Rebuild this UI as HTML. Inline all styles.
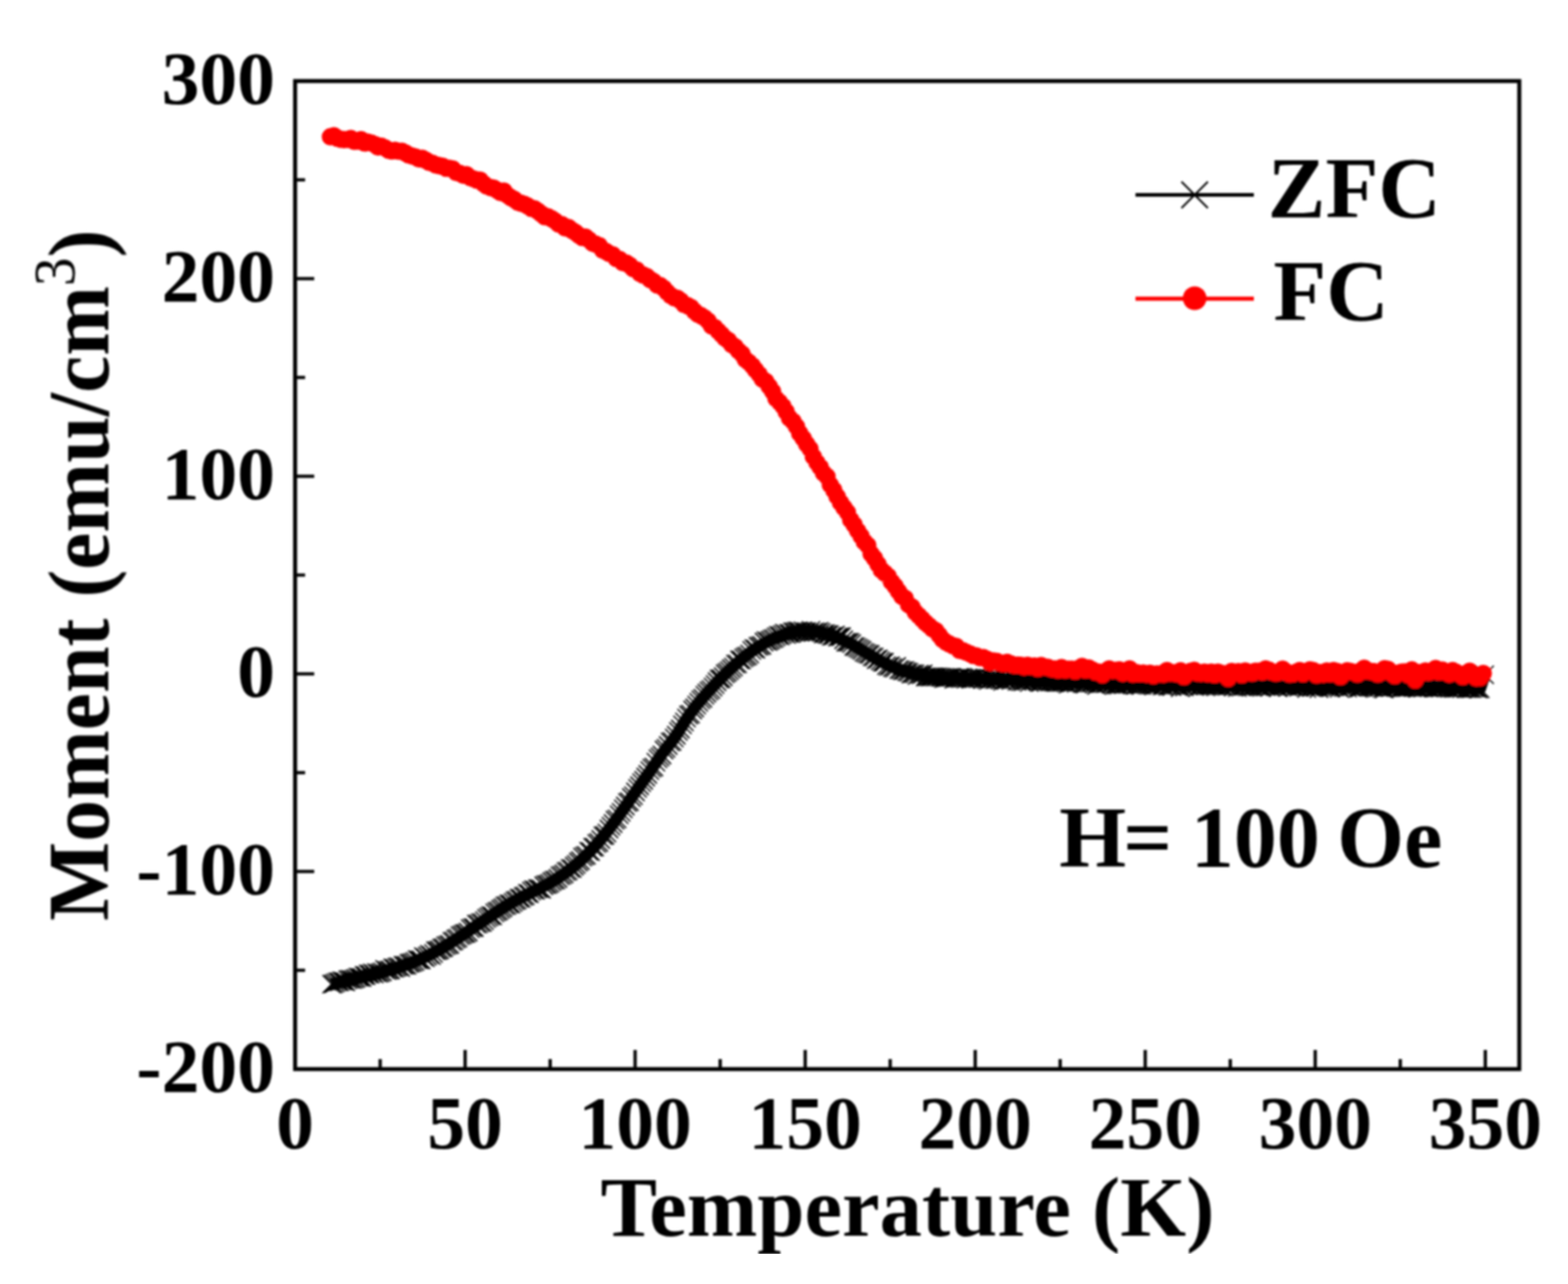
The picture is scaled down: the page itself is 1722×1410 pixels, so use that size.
<!DOCTYPE html>
<html><head><meta charset="utf-8"><title>ZFC/FC Moment vs Temperature</title>
<style>html,body{margin:0;padding:0;background:#fff;overflow:hidden;}svg{display:block;}
text{font-family:"Liberation Serif","Times New Roman",serif;font-weight:bold;fill:#000;}</style>
</head><body>
<svg width="1722" height="1410" viewBox="0 0 1722 1410">
<defs><filter id="soft" x="0" y="0" width="100%" height="100%"><feGaussianBlur stdDeviation="0.8"/></filter></defs>
<rect x="0" y="0" width="1722" height="1410" fill="#fff"/>
<g filter="url(#soft)">
<polyline points="364.1,1080.7 366.3,1080.1 368.5,1079.6 370.8,1079.0 373.0,1078.5 375.3,1077.9 377.5,1077.4 379.7,1076.9 382.0,1076.4 384.2,1075.9 386.5,1075.3 388.7,1074.8 390.9,1074.3 393.2,1073.8 395.4,1073.3 397.7,1072.8 399.9,1072.3 402.1,1071.8 404.4,1071.3 406.6,1070.7 408.9,1070.2 411.1,1069.7 413.4,1069.1 415.6,1068.6 417.8,1068.0 420.1,1067.4 422.3,1066.8 424.6,1066.2 426.8,1065.6 429.0,1065.0 431.3,1064.3 433.5,1063.6 435.8,1062.9 438.0,1062.2 440.2,1061.5 442.5,1060.8 444.7,1060.0 447.0,1059.2 449.2,1058.4 451.4,1057.5 453.7,1056.7 455.9,1055.8 458.2,1054.8 460.4,1053.9 462.6,1052.9 464.9,1051.9 467.1,1050.8 469.4,1049.8 471.6,1048.6 473.9,1047.5 476.1,1046.3 478.3,1045.1 480.6,1043.8 482.8,1042.6 485.1,1041.3 487.3,1039.9 489.5,1038.6 491.8,1037.2 494.0,1035.8 496.3,1034.4 498.5,1033.0 500.7,1031.5 503.0,1030.1 505.2,1028.6 507.5,1027.1 509.7,1025.6 511.9,1024.1 514.2,1022.6 516.4,1021.0 518.7,1019.5 520.9,1018.0 523.1,1016.4 525.4,1014.9 527.6,1013.4 529.9,1011.9 532.1,1010.3 534.3,1008.8 536.6,1007.3 538.8,1005.8 541.1,1004.3 543.3,1002.9 545.6,1001.4 547.8,999.9 550.0,998.5 552.3,997.1 554.5,995.7 556.8,994.3 559.0,993.0 561.2,991.7 563.5,990.4 565.7,989.1 568.0,987.9 570.2,986.7 572.4,985.5 574.7,984.4 576.9,983.2 579.2,982.2 581.4,981.1 583.6,980.0 585.9,978.9 588.1,977.8 590.4,976.7 592.6,975.6 594.8,974.5 597.1,973.3 599.3,972.1 601.6,970.9 603.8,969.6 606.1,968.3 608.3,966.9 610.5,965.5 612.8,964.1 615.0,962.6 617.3,961.1 619.5,959.6 621.7,957.9 624.0,956.3 626.2,954.6 628.5,952.8 630.7,951.0 632.9,949.1 635.2,947.2 637.4,945.2 639.7,943.1 641.9,941.0 644.1,938.8 646.4,936.6 648.6,934.3 650.9,931.9 653.1,929.5 655.3,927.0 657.6,924.4 659.8,921.8 662.1,919.0 664.3,916.3 666.5,913.4 668.8,910.5 671.0,907.5 673.3,904.5 675.5,901.4 677.8,898.4 680.0,895.2 682.2,892.1 684.5,888.9 686.7,885.7 689.0,882.5 691.2,879.2 693.4,876.0 695.7,872.8 697.9,869.6 700.2,866.4 702.4,863.2 704.6,860.0 706.9,856.9 709.1,853.8 711.4,850.6 713.6,847.5 715.8,844.2 718.1,840.9 720.3,837.6 722.6,834.3 724.8,831.0 727.0,827.9 729.3,824.9 731.5,822.0 733.8,819.2 736.0,816.4 738.2,813.5 740.5,810.5 742.7,807.3 745.0,803.8 747.2,800.2 749.5,796.5 751.7,792.9 753.9,789.5 756.2,786.2 758.4,783.1 760.7,780.1 762.9,777.1 765.1,774.3 767.4,771.6 769.6,768.9 771.9,766.3 774.1,763.8 776.3,761.2 778.6,758.7 780.8,756.3 783.1,753.9 785.3,751.5 787.5,749.1 789.8,746.8 792.0,744.5 794.3,742.3 796.5,740.1 798.7,737.9 801.0,735.8 803.2,733.7 805.5,731.6 807.7,729.6 810.0,727.7 812.2,725.8 814.4,723.9 816.7,722.1 818.9,720.3 821.2,718.6 823.4,716.9 825.6,715.3 827.9,713.7 830.1,712.2 832.4,710.7 834.6,709.3 836.8,707.9 839.1,706.6 841.3,705.4 843.6,704.2 845.8,703.0 848.0,702.0 850.3,701.0 852.5,700.0 854.8,699.1 857.0,698.3 859.2,697.5 861.5,696.8 863.7,696.2 866.0,695.6 868.2,695.1 870.4,694.7 872.7,694.3 874.9,694.0 877.2,693.7 879.4,693.5 881.7,693.4 883.9,693.3 886.1,693.3 888.4,693.4 890.6,693.5 892.9,693.7 895.1,693.9 897.3,694.2 899.6,694.5 901.8,694.9 904.1,695.4 906.3,695.9 908.5,696.5 910.8,697.1 913.0,697.8 915.3,698.5 917.5,699.3 919.7,700.2 922.0,701.1 924.2,702.1 926.5,703.1 928.7,704.1 930.9,705.3 933.2,706.4 935.4,707.6 937.7,708.9 939.9,710.2 942.2,711.5 944.4,712.8 946.6,714.1 948.9,715.5 951.1,716.8 953.4,718.1 955.6,719.5 957.8,720.8 960.1,722.1 962.3,723.4 964.6,724.7 966.8,725.9 969.0,727.1 971.3,728.3 973.5,729.4 975.8,730.5 978.0,731.5 980.2,732.4 982.5,733.3 984.7,734.2 987.0,735.0 989.2,735.8 991.4,736.5 993.7,737.2 995.9,737.8 998.2,738.4 1000.4,739.0 1002.6,739.5 1004.9,740.0 1007.1,740.5 1009.4,740.9 1011.6,741.3 1013.9,741.6 1016.1,742.0 1018.3,742.3 1020.6,742.6 1022.8,742.8 1025.1,743.1 1027.3,743.3 1029.5,743.5 1031.8,743.6 1034.0,743.8 1036.3,743.9 1038.5,744.1 1040.7,744.2 1043.0,744.3 1045.2,744.4 1047.5,744.5 1049.7,744.6 1051.9,744.6 1054.2,744.7 1056.4,744.8 1058.7,744.9 1060.9,744.9 1063.1,745.0 1065.4,745.1 1067.6,745.1 1069.9,745.2 1072.1,745.3 1074.3,745.4 1076.6,745.5 1078.8,745.5 1081.1,745.6 1083.3,745.7 1085.6,745.8 1087.8,745.9 1090.0,746.0 1092.3,746.1 1094.5,746.2 1096.8,746.2 1099.0,746.3 1101.2,746.4 1103.5,746.5 1105.7,746.6 1108.0,746.7 1110.2,746.8 1112.4,746.9 1114.7,747.0 1116.9,747.1 1119.2,747.2 1121.4,747.3 1123.6,747.4 1125.9,747.5 1128.1,747.6 1130.4,747.7 1132.6,747.8 1134.8,747.9 1137.1,748.0 1139.3,748.1 1141.6,748.2 1143.8,748.3 1146.1,748.4 1148.3,748.5 1150.5,748.6 1152.8,748.7 1155.0,748.8 1157.3,748.9 1159.5,749.0 1161.7,749.1 1164.0,749.1 1166.2,749.2 1168.5,749.3 1170.7,749.4 1172.9,749.5 1175.2,749.6 1177.4,749.7 1179.7,749.7 1181.9,749.8 1184.1,749.9 1186.4,750.0 1188.6,750.1 1190.9,750.1 1193.1,750.2 1195.3,750.3 1197.6,750.4 1199.8,750.5 1202.1,750.5 1204.3,750.6 1206.5,750.7 1208.8,750.7 1211.0,750.8 1213.3,750.9 1215.5,750.9 1217.8,751.0 1220.0,751.1 1222.2,751.1 1224.5,751.2 1226.7,751.3 1229.0,751.3 1231.2,751.4 1233.4,751.4 1235.7,751.5 1237.9,751.6 1240.2,751.6 1242.4,751.7 1244.6,751.7 1246.9,751.8 1249.1,751.8 1251.4,751.9 1253.6,751.9 1255.8,752.0 1258.1,752.0 1260.3,752.1 1262.6,752.1 1264.8,752.2 1267.0,752.2 1269.3,752.3 1271.5,752.3 1273.8,752.4 1276.0,752.4 1278.3,752.5 1280.5,752.5 1282.7,752.6 1285.0,752.6 1287.2,752.6 1289.5,752.7 1291.7,752.7 1293.9,752.8 1296.2,752.8 1298.4,752.8 1300.7,752.9 1302.9,752.9 1305.1,752.9 1307.4,753.0 1309.6,753.0 1311.9,753.1 1314.1,753.1 1316.3,753.1 1318.6,753.2 1320.8,753.2 1323.1,753.2 1325.3,753.2 1327.5,753.3 1329.8,753.3 1332.0,753.3 1334.3,753.4 1336.5,753.4 1338.7,753.4 1341.0,753.5 1343.2,753.5 1345.5,753.5 1347.7,753.5 1350.0,753.6 1352.2,753.6 1354.4,753.6 1356.7,753.6 1358.9,753.7 1361.2,753.7 1363.4,753.7 1365.6,753.7 1367.9,753.8 1370.1,753.8 1372.4,753.8 1374.6,753.8 1376.8,753.8 1379.1,753.9 1381.3,753.9 1383.6,753.9 1385.8,753.9 1388.0,753.9 1390.3,754.0 1392.5,754.0 1394.8,754.0 1397.0,754.0 1399.2,754.0 1401.5,754.1 1403.7,754.1 1406.0,754.1 1408.2,754.1 1410.4,754.1 1412.7,754.1 1414.9,754.2 1417.2,754.2 1419.4,754.2 1421.7,754.2 1423.9,754.2 1426.1,754.2 1428.4,754.3 1430.6,754.3 1432.9,754.3 1435.1,754.3 1437.3,754.3 1439.6,754.3 1441.8,754.3 1444.1,754.4 1446.3,754.4 1448.5,754.4 1450.8,754.4 1453.0,754.4 1455.3,754.4 1457.5,754.5 1459.7,754.5 1462.0,754.5 1464.2,754.5 1466.5,754.5 1468.7,754.5 1470.9,754.5 1473.2,754.6 1475.4,754.6 1477.7,754.6 1479.9,754.6 1482.2,754.6 1484.4,754.6 1486.6,754.6 1488.9,754.7 1491.1,754.7 1493.4,754.7 1495.6,754.7 1497.8,754.7 1500.1,754.7 1502.3,754.8 1504.6,754.8 1506.8,754.8 1509.0,754.8 1511.3,754.8 1513.5,754.8 1515.8,754.9 1518.0,754.9 1520.2,754.9 1522.5,754.9 1524.7,754.9 1527.0,754.9 1529.2,755.0 1531.4,755.0 1533.7,755.0 1535.9,755.0 1538.2,755.0 1540.4,755.1 1542.6,755.1 1544.9,755.1 1547.1,755.1 1549.4,755.1 1551.6,755.2 1553.9,755.2 1556.1,755.2 1558.3,755.2 1560.6,755.2 1562.8,755.3 1565.1,755.3 1567.3,755.3 1569.5,755.3 1571.8,755.4 1574.0,755.4 1576.3,755.4 1578.5,755.4 1580.7,755.5 1583.0,755.5 1585.2,755.5 1587.5,755.5 1589.7,755.6 1591.9,755.6 1594.2,755.6 1596.4,755.7 1598.7,755.7 1600.9,755.7 1603.1,755.7 1605.4,755.8 1607.6,755.8 1609.9,755.8 1612.1,755.9 1614.4,755.9 1616.6,755.9 1618.8,756.0 1621.1,756.0 1623.3,756.1 1625.6,756.1 1630.5,741.0" fill="none" stroke="#000" stroke-width="13.0" stroke-linejoin="round" stroke-linecap="butt"/>
<path d="M354.1 1070.7l20.0 20.0m-20.0 0l20.0 -20.0M356.3 1070.4l20.0 20.0m-20.0 0l20.0 -20.0M358.5 1069.3l20.0 20.0m-20.0 0l20.0 -20.0M360.8 1068.2l20.0 20.0m-20.0 0l20.0 -20.0M363.0 1068.1l20.0 20.0m-20.0 0l20.0 -20.0M365.3 1067.1l20.0 20.0m-20.0 0l20.0 -20.0M367.5 1067.5l20.0 20.0m-20.0 0l20.0 -20.0M369.7 1068.1l20.0 20.0m-20.0 0l20.0 -20.0M372.0 1065.9l20.0 20.0m-20.0 0l20.0 -20.0M374.2 1065.3l20.0 20.0m-20.0 0l20.0 -20.0M376.5 1065.8l20.0 20.0m-20.0 0l20.0 -20.0M378.7 1065.2l20.0 20.0m-20.0 0l20.0 -20.0M380.9 1064.4l20.0 20.0m-20.0 0l20.0 -20.0M383.2 1063.0l20.0 20.0m-20.0 0l20.0 -20.0M385.4 1063.3l20.0 20.0m-20.0 0l20.0 -20.0M387.7 1063.4l20.0 20.0m-20.0 0l20.0 -20.0M389.9 1061.1l20.0 20.0m-20.0 0l20.0 -20.0M392.1 1061.4l20.0 20.0m-20.0 0l20.0 -20.0M394.4 1059.5l20.0 20.0m-20.0 0l20.0 -20.0M396.6 1059.6l20.0 20.0m-20.0 0l20.0 -20.0M398.9 1058.5l20.0 20.0m-20.0 0l20.0 -20.0M401.1 1059.5l20.0 20.0m-20.0 0l20.0 -20.0M403.4 1058.0l20.0 20.0m-20.0 0l20.0 -20.0M405.6 1058.8l20.0 20.0m-20.0 0l20.0 -20.0M407.8 1058.1l20.0 20.0m-20.0 0l20.0 -20.0M410.1 1057.2l20.0 20.0m-20.0 0l20.0 -20.0M412.3 1054.5l20.0 20.0m-20.0 0l20.0 -20.0M414.6 1055.7l20.0 20.0m-20.0 0l20.0 -20.0M416.8 1055.5l20.0 20.0m-20.0 0l20.0 -20.0M419.0 1055.1l20.0 20.0m-20.0 0l20.0 -20.0M421.3 1052.9l20.0 20.0m-20.0 0l20.0 -20.0M423.5 1053.2l20.0 20.0m-20.0 0l20.0 -20.0M425.8 1052.1l20.0 20.0m-20.0 0l20.0 -20.0M428.0 1051.5l20.0 20.0m-20.0 0l20.0 -20.0M430.2 1052.5l20.0 20.0m-20.0 0l20.0 -20.0M432.5 1050.0l20.0 20.0m-20.0 0l20.0 -20.0M434.7 1050.0l20.0 20.0m-20.0 0l20.0 -20.0M437.0 1050.0l20.0 20.0m-20.0 0l20.0 -20.0M439.2 1047.9l20.0 20.0m-20.0 0l20.0 -20.0M441.4 1047.4l20.0 20.0m-20.0 0l20.0 -20.0M443.7 1046.8l20.0 20.0m-20.0 0l20.0 -20.0M445.9 1045.8l20.0 20.0m-20.0 0l20.0 -20.0M448.2 1043.7l20.0 20.0m-20.0 0l20.0 -20.0M450.4 1044.0l20.0 20.0m-20.0 0l20.0 -20.0M452.6 1044.1l20.0 20.0m-20.0 0l20.0 -20.0M454.9 1040.5l20.0 20.0m-20.0 0l20.0 -20.0M457.1 1041.6l20.0 20.0m-20.0 0l20.0 -20.0M459.4 1039.9l20.0 20.0m-20.0 0l20.0 -20.0M461.6 1038.1l20.0 20.0m-20.0 0l20.0 -20.0M463.9 1039.3l20.0 20.0m-20.0 0l20.0 -20.0M466.1 1037.0l20.0 20.0m-20.0 0l20.0 -20.0M468.3 1034.0l20.0 20.0m-20.0 0l20.0 -20.0M470.6 1033.9l20.0 20.0m-20.0 0l20.0 -20.0M472.8 1033.1l20.0 20.0m-20.0 0l20.0 -20.0M475.1 1031.1l20.0 20.0m-20.0 0l20.0 -20.0M477.3 1030.6l20.0 20.0m-20.0 0l20.0 -20.0M479.5 1028.5l20.0 20.0m-20.0 0l20.0 -20.0M481.8 1027.8l20.0 20.0m-20.0 0l20.0 -20.0M484.0 1027.1l20.0 20.0m-20.0 0l20.0 -20.0M486.3 1023.8l20.0 20.0m-20.0 0l20.0 -20.0M488.5 1023.2l20.0 20.0m-20.0 0l20.0 -20.0M490.7 1021.1l20.0 20.0m-20.0 0l20.0 -20.0M493.0 1020.2l20.0 20.0m-20.0 0l20.0 -20.0M495.2 1017.5l20.0 20.0m-20.0 0l20.0 -20.0M497.5 1016.6l20.0 20.0m-20.0 0l20.0 -20.0M499.7 1015.4l20.0 20.0m-20.0 0l20.0 -20.0M501.9 1014.9l20.0 20.0m-20.0 0l20.0 -20.0M504.2 1013.6l20.0 20.0m-20.0 0l20.0 -20.0M506.4 1009.8l20.0 20.0m-20.0 0l20.0 -20.0M508.7 1008.8l20.0 20.0m-20.0 0l20.0 -20.0M510.9 1008.6l20.0 20.0m-20.0 0l20.0 -20.0M513.1 1004.7l20.0 20.0m-20.0 0l20.0 -20.0M515.4 1004.5l20.0 20.0m-20.0 0l20.0 -20.0M517.6 1003.3l20.0 20.0m-20.0 0l20.0 -20.0M519.9 1003.0l20.0 20.0m-20.0 0l20.0 -20.0M522.1 1001.0l20.0 20.0m-20.0 0l20.0 -20.0M524.3 998.5l20.0 20.0m-20.0 0l20.0 -20.0M526.6 997.0l20.0 20.0m-20.0 0l20.0 -20.0M528.8 995.6l20.0 20.0m-20.0 0l20.0 -20.0M531.1 995.7l20.0 20.0m-20.0 0l20.0 -20.0M533.3 992.5l20.0 20.0m-20.0 0l20.0 -20.0M535.6 991.1l20.0 20.0m-20.0 0l20.0 -20.0M537.8 990.3l20.0 20.0m-20.0 0l20.0 -20.0M540.0 988.4l20.0 20.0m-20.0 0l20.0 -20.0M542.3 986.9l20.0 20.0m-20.0 0l20.0 -20.0M544.5 984.7l20.0 20.0m-20.0 0l20.0 -20.0M546.8 984.3l20.0 20.0m-20.0 0l20.0 -20.0M549.0 982.6l20.0 20.0m-20.0 0l20.0 -20.0M551.2 982.7l20.0 20.0m-20.0 0l20.0 -20.0M553.5 981.0l20.0 20.0m-20.0 0l20.0 -20.0M555.7 979.1l20.0 20.0m-20.0 0l20.0 -20.0M558.0 978.5l20.0 20.0m-20.0 0l20.0 -20.0M560.2 976.4l20.0 20.0m-20.0 0l20.0 -20.0M562.4 976.5l20.0 20.0m-20.0 0l20.0 -20.0M564.7 974.4l20.0 20.0m-20.0 0l20.0 -20.0M566.9 973.8l20.0 20.0m-20.0 0l20.0 -20.0M569.2 971.0l20.0 20.0m-20.0 0l20.0 -20.0M571.4 971.4l20.0 20.0m-20.0 0l20.0 -20.0M573.6 968.5l20.0 20.0m-20.0 0l20.0 -20.0M575.9 967.1l20.0 20.0m-20.0 0l20.0 -20.0M578.1 967.6l20.0 20.0m-20.0 0l20.0 -20.0M580.4 965.9l20.0 20.0m-20.0 0l20.0 -20.0M582.6 965.8l20.0 20.0m-20.0 0l20.0 -20.0M584.8 966.5l20.0 20.0m-20.0 0l20.0 -20.0M587.1 962.6l20.0 20.0m-20.0 0l20.0 -20.0M589.3 961.5l20.0 20.0m-20.0 0l20.0 -20.0M591.6 961.1l20.0 20.0m-20.0 0l20.0 -20.0M593.8 960.0l20.0 20.0m-20.0 0l20.0 -20.0M596.1 958.1l20.0 20.0m-20.0 0l20.0 -20.0M598.3 956.8l20.0 20.0m-20.0 0l20.0 -20.0M600.5 956.2l20.0 20.0m-20.0 0l20.0 -20.0M602.8 954.6l20.0 20.0m-20.0 0l20.0 -20.0M605.0 951.7l20.0 20.0m-20.0 0l20.0 -20.0M607.3 951.0l20.0 20.0m-20.0 0l20.0 -20.0M609.5 949.6l20.0 20.0m-20.0 0l20.0 -20.0M611.7 947.0l20.0 20.0m-20.0 0l20.0 -20.0M614.0 946.5l20.0 20.0m-20.0 0l20.0 -20.0M616.2 943.8l20.0 20.0m-20.0 0l20.0 -20.0M618.5 943.7l20.0 20.0m-20.0 0l20.0 -20.0M620.7 941.1l20.0 20.0m-20.0 0l20.0 -20.0M622.9 939.2l20.0 20.0m-20.0 0l20.0 -20.0M625.2 936.6l20.0 20.0m-20.0 0l20.0 -20.0M627.4 935.1l20.0 20.0m-20.0 0l20.0 -20.0M629.7 931.3l20.0 20.0m-20.0 0l20.0 -20.0M631.9 930.0l20.0 20.0m-20.0 0l20.0 -20.0M634.1 929.2l20.0 20.0m-20.0 0l20.0 -20.0M636.4 924.7l20.0 20.0m-20.0 0l20.0 -20.0M638.6 925.1l20.0 20.0m-20.0 0l20.0 -20.0M640.9 920.4l20.0 20.0m-20.0 0l20.0 -20.0M643.1 920.2l20.0 20.0m-20.0 0l20.0 -20.0M645.3 916.2l20.0 20.0m-20.0 0l20.0 -20.0M647.6 915.1l20.0 20.0m-20.0 0l20.0 -20.0M649.8 911.9l20.0 20.0m-20.0 0l20.0 -20.0M652.1 907.7l20.0 20.0m-20.0 0l20.0 -20.0M654.3 907.4l20.0 20.0m-20.0 0l20.0 -20.0M656.5 904.7l20.0 20.0m-20.0 0l20.0 -20.0M658.8 900.4l20.0 20.0m-20.0 0l20.0 -20.0M661.0 897.3l20.0 20.0m-20.0 0l20.0 -20.0M663.3 894.4l20.0 20.0m-20.0 0l20.0 -20.0M665.5 890.6l20.0 20.0m-20.0 0l20.0 -20.0M667.8 889.3l20.0 20.0m-20.0 0l20.0 -20.0M670.0 884.7l20.0 20.0m-20.0 0l20.0 -20.0M672.2 882.0l20.0 20.0m-20.0 0l20.0 -20.0M674.5 878.2l20.0 20.0m-20.0 0l20.0 -20.0M676.7 875.1l20.0 20.0m-20.0 0l20.0 -20.0M679.0 871.3l20.0 20.0m-20.0 0l20.0 -20.0M681.2 870.4l20.0 20.0m-20.0 0l20.0 -20.0M683.4 865.9l20.0 20.0m-20.0 0l20.0 -20.0M685.7 863.7l20.0 20.0m-20.0 0l20.0 -20.0M687.9 859.6l20.0 20.0m-20.0 0l20.0 -20.0M690.2 855.8l20.0 20.0m-20.0 0l20.0 -20.0M692.4 852.9l20.0 20.0m-20.0 0l20.0 -20.0M694.6 849.5l20.0 20.0m-20.0 0l20.0 -20.0M696.9 846.9l20.0 20.0m-20.0 0l20.0 -20.0M699.1 843.4l20.0 20.0m-20.0 0l20.0 -20.0M701.4 840.4l20.0 20.0m-20.0 0l20.0 -20.0M703.6 836.2l20.0 20.0m-20.0 0l20.0 -20.0M705.8 833.5l20.0 20.0m-20.0 0l20.0 -20.0M708.1 832.4l20.0 20.0m-20.0 0l20.0 -20.0M710.3 827.0l20.0 20.0m-20.0 0l20.0 -20.0M712.6 823.3l20.0 20.0m-20.0 0l20.0 -20.0M714.8 821.3l20.0 20.0m-20.0 0l20.0 -20.0M717.0 819.1l20.0 20.0m-20.0 0l20.0 -20.0M719.3 813.6l20.0 20.0m-20.0 0l20.0 -20.0M721.5 811.8l20.0 20.0m-20.0 0l20.0 -20.0M723.8 808.6l20.0 20.0m-20.0 0l20.0 -20.0M726.0 804.8l20.0 20.0m-20.0 0l20.0 -20.0M728.2 804.2l20.0 20.0m-20.0 0l20.0 -20.0M730.5 800.5l20.0 20.0m-20.0 0l20.0 -20.0M732.7 797.4l20.0 20.0m-20.0 0l20.0 -20.0M735.0 793.2l20.0 20.0m-20.0 0l20.0 -20.0M737.2 790.6l20.0 20.0m-20.0 0l20.0 -20.0M739.5 786.0l20.0 20.0m-20.0 0l20.0 -20.0M741.7 782.8l20.0 20.0m-20.0 0l20.0 -20.0M743.9 778.5l20.0 20.0m-20.0 0l20.0 -20.0M746.2 775.1l20.0 20.0m-20.0 0l20.0 -20.0M748.4 774.3l20.0 20.0m-20.0 0l20.0 -20.0M750.7 769.6l20.0 20.0m-20.0 0l20.0 -20.0M752.9 767.4l20.0 20.0m-20.0 0l20.0 -20.0M755.1 764.3l20.0 20.0m-20.0 0l20.0 -20.0M757.4 761.2l20.0 20.0m-20.0 0l20.0 -20.0M759.6 758.5l20.0 20.0m-20.0 0l20.0 -20.0M761.9 756.9l20.0 20.0m-20.0 0l20.0 -20.0M764.1 753.5l20.0 20.0m-20.0 0l20.0 -20.0M766.3 751.1l20.0 20.0m-20.0 0l20.0 -20.0M768.6 748.8l20.0 20.0m-20.0 0l20.0 -20.0M770.8 747.3l20.0 20.0m-20.0 0l20.0 -20.0M773.1 744.5l20.0 20.0m-20.0 0l20.0 -20.0M775.3 741.8l20.0 20.0m-20.0 0l20.0 -20.0M777.5 738.6l20.0 20.0m-20.0 0l20.0 -20.0M779.8 735.6l20.0 20.0m-20.0 0l20.0 -20.0M782.0 735.4l20.0 20.0m-20.0 0l20.0 -20.0M784.3 733.1l20.0 20.0m-20.0 0l20.0 -20.0M786.5 729.9l20.0 20.0m-20.0 0l20.0 -20.0M788.7 728.4l20.0 20.0m-20.0 0l20.0 -20.0M791.0 726.5l20.0 20.0m-20.0 0l20.0 -20.0M793.2 724.4l20.0 20.0m-20.0 0l20.0 -20.0M795.5 722.5l20.0 20.0m-20.0 0l20.0 -20.0M797.7 719.2l20.0 20.0m-20.0 0l20.0 -20.0M800.0 719.0l20.0 20.0m-20.0 0l20.0 -20.0M802.2 714.6l20.0 20.0m-20.0 0l20.0 -20.0M804.4 714.7l20.0 20.0m-20.0 0l20.0 -20.0M806.7 712.5l20.0 20.0m-20.0 0l20.0 -20.0M808.9 711.1l20.0 20.0m-20.0 0l20.0 -20.0M811.2 710.3l20.0 20.0m-20.0 0l20.0 -20.0M813.4 708.2l20.0 20.0m-20.0 0l20.0 -20.0M815.6 704.2l20.0 20.0m-20.0 0l20.0 -20.0M817.9 702.2l20.0 20.0m-20.0 0l20.0 -20.0M820.1 702.9l20.0 20.0m-20.0 0l20.0 -20.0M822.4 699.8l20.0 20.0m-20.0 0l20.0 -20.0M824.6 699.3l20.0 20.0m-20.0 0l20.0 -20.0M826.8 698.7l20.0 20.0m-20.0 0l20.0 -20.0M829.1 695.1l20.0 20.0m-20.0 0l20.0 -20.0M831.3 693.5l20.0 20.0m-20.0 0l20.0 -20.0M833.6 694.4l20.0 20.0m-20.0 0l20.0 -20.0M835.8 693.1l20.0 20.0m-20.0 0l20.0 -20.0M838.0 691.7l20.0 20.0m-20.0 0l20.0 -20.0M840.3 691.0l20.0 20.0m-20.0 0l20.0 -20.0M842.5 689.2l20.0 20.0m-20.0 0l20.0 -20.0M844.8 687.8l20.0 20.0m-20.0 0l20.0 -20.0M847.0 688.1l20.0 20.0m-20.0 0l20.0 -20.0M849.2 686.7l20.0 20.0m-20.0 0l20.0 -20.0M851.5 685.4l20.0 20.0m-20.0 0l20.0 -20.0M853.7 686.7l20.0 20.0m-20.0 0l20.0 -20.0M856.0 685.6l20.0 20.0m-20.0 0l20.0 -20.0M858.2 685.5l20.0 20.0m-20.0 0l20.0 -20.0M860.4 683.8l20.0 20.0m-20.0 0l20.0 -20.0M862.7 683.7l20.0 20.0m-20.0 0l20.0 -20.0M864.9 683.1l20.0 20.0m-20.0 0l20.0 -20.0M867.2 682.9l20.0 20.0m-20.0 0l20.0 -20.0M869.4 683.7l20.0 20.0m-20.0 0l20.0 -20.0M871.7 682.7l20.0 20.0m-20.0 0l20.0 -20.0M873.9 683.7l20.0 20.0m-20.0 0l20.0 -20.0M876.1 683.6l20.0 20.0m-20.0 0l20.0 -20.0M878.4 685.2l20.0 20.0m-20.0 0l20.0 -20.0M880.6 682.2l20.0 20.0m-20.0 0l20.0 -20.0M882.9 684.5l20.0 20.0m-20.0 0l20.0 -20.0M885.1 683.8l20.0 20.0m-20.0 0l20.0 -20.0M887.3 684.2l20.0 20.0m-20.0 0l20.0 -20.0M889.6 683.2l20.0 20.0m-20.0 0l20.0 -20.0M891.8 684.5l20.0 20.0m-20.0 0l20.0 -20.0M894.1 686.1l20.0 20.0m-20.0 0l20.0 -20.0M896.3 685.8l20.0 20.0m-20.0 0l20.0 -20.0M898.5 686.6l20.0 20.0m-20.0 0l20.0 -20.0M900.8 686.9l20.0 20.0m-20.0 0l20.0 -20.0M903.0 688.8l20.0 20.0m-20.0 0l20.0 -20.0M905.3 688.5l20.0 20.0m-20.0 0l20.0 -20.0M907.5 687.4l20.0 20.0m-20.0 0l20.0 -20.0M909.7 689.6l20.0 20.0m-20.0 0l20.0 -20.0M912.0 689.3l20.0 20.0m-20.0 0l20.0 -20.0M914.2 689.1l20.0 20.0m-20.0 0l20.0 -20.0M916.5 692.6l20.0 20.0m-20.0 0l20.0 -20.0M918.7 695.3l20.0 20.0m-20.0 0l20.0 -20.0M920.9 695.3l20.0 20.0m-20.0 0l20.0 -20.0M923.2 695.4l20.0 20.0m-20.0 0l20.0 -20.0M925.4 696.8l20.0 20.0m-20.0 0l20.0 -20.0M927.7 699.9l20.0 20.0m-20.0 0l20.0 -20.0M929.9 700.3l20.0 20.0m-20.0 0l20.0 -20.0M932.2 701.5l20.0 20.0m-20.0 0l20.0 -20.0M934.4 702.7l20.0 20.0m-20.0 0l20.0 -20.0M936.6 704.1l20.0 20.0m-20.0 0l20.0 -20.0M938.9 706.2l20.0 20.0m-20.0 0l20.0 -20.0M941.1 707.3l20.0 20.0m-20.0 0l20.0 -20.0M943.4 708.3l20.0 20.0m-20.0 0l20.0 -20.0M945.6 708.6l20.0 20.0m-20.0 0l20.0 -20.0M947.8 711.3l20.0 20.0m-20.0 0l20.0 -20.0M950.1 711.5l20.0 20.0m-20.0 0l20.0 -20.0M952.3 714.4l20.0 20.0m-20.0 0l20.0 -20.0M954.6 713.6l20.0 20.0m-20.0 0l20.0 -20.0M956.8 715.8l20.0 20.0m-20.0 0l20.0 -20.0M959.0 717.1l20.0 20.0m-20.0 0l20.0 -20.0M961.3 717.1l20.0 20.0m-20.0 0l20.0 -20.0M963.5 721.0l20.0 20.0m-20.0 0l20.0 -20.0M965.8 721.8l20.0 20.0m-20.0 0l20.0 -20.0M968.0 721.1l20.0 20.0m-20.0 0l20.0 -20.0M970.2 723.1l20.0 20.0m-20.0 0l20.0 -20.0M972.5 723.7l20.0 20.0m-20.0 0l20.0 -20.0M974.7 721.9l20.0 20.0m-20.0 0l20.0 -20.0M977.0 725.2l20.0 20.0m-20.0 0l20.0 -20.0M979.2 725.7l20.0 20.0m-20.0 0l20.0 -20.0M981.4 726.6l20.0 20.0m-20.0 0l20.0 -20.0M983.7 726.2l20.0 20.0m-20.0 0l20.0 -20.0M985.9 727.6l20.0 20.0m-20.0 0l20.0 -20.0M988.2 728.3l20.0 20.0m-20.0 0l20.0 -20.0M990.4 730.1l20.0 20.0m-20.0 0l20.0 -20.0M992.6 729.8l20.0 20.0m-20.0 0l20.0 -20.0M994.9 730.0l20.0 20.0m-20.0 0l20.0 -20.0M997.1 731.8l20.0 20.0m-20.0 0l20.0 -20.0M999.4 730.4l20.0 20.0m-20.0 0l20.0 -20.0M1001.6 730.9l20.0 20.0m-20.0 0l20.0 -20.0M1003.9 730.0l20.0 20.0m-20.0 0l20.0 -20.0M1006.1 733.4l20.0 20.0m-20.0 0l20.0 -20.0M1008.3 733.2l20.0 20.0m-20.0 0l20.0 -20.0M1010.6 733.4l20.0 20.0m-20.0 0l20.0 -20.0M1012.8 733.4l20.0 20.0m-20.0 0l20.0 -20.0M1015.1 733.2l20.0 20.0m-20.0 0l20.0 -20.0M1017.3 733.5l20.0 20.0m-20.0 0l20.0 -20.0M1019.5 733.2l20.0 20.0m-20.0 0l20.0 -20.0M1021.8 733.5l20.0 20.0m-20.0 0l20.0 -20.0M1024.0 733.9l20.0 20.0m-20.0 0l20.0 -20.0M1026.3 735.3l20.0 20.0m-20.0 0l20.0 -20.0M1028.5 734.6l20.0 20.0m-20.0 0l20.0 -20.0M1030.7 734.1l20.0 20.0m-20.0 0l20.0 -20.0M1033.0 733.8l20.0 20.0m-20.0 0l20.0 -20.0M1035.2 733.8l20.0 20.0m-20.0 0l20.0 -20.0M1037.5 735.9l20.0 20.0m-20.0 0l20.0 -20.0M1039.7 735.0l20.0 20.0m-20.0 0l20.0 -20.0M1041.9 734.7l20.0 20.0m-20.0 0l20.0 -20.0M1044.2 734.4l20.0 20.0m-20.0 0l20.0 -20.0M1046.4 733.8l20.0 20.0m-20.0 0l20.0 -20.0M1048.7 734.8l20.0 20.0m-20.0 0l20.0 -20.0M1050.9 735.7l20.0 20.0m-20.0 0l20.0 -20.0M1053.1 734.6l20.0 20.0m-20.0 0l20.0 -20.0M1055.4 734.9l20.0 20.0m-20.0 0l20.0 -20.0M1057.6 734.9l20.0 20.0m-20.0 0l20.0 -20.0M1059.9 735.3l20.0 20.0m-20.0 0l20.0 -20.0M1062.1 733.9l20.0 20.0m-20.0 0l20.0 -20.0M1064.3 735.2l20.0 20.0m-20.0 0l20.0 -20.0M1066.6 734.7l20.0 20.0m-20.0 0l20.0 -20.0M1068.8 736.3l20.0 20.0m-20.0 0l20.0 -20.0M1071.1 734.9l20.0 20.0m-20.0 0l20.0 -20.0M1073.3 736.2l20.0 20.0m-20.0 0l20.0 -20.0M1075.6 737.2l20.0 20.0m-20.0 0l20.0 -20.0M1077.8 735.6l20.0 20.0m-20.0 0l20.0 -20.0M1080.0 735.4l20.0 20.0m-20.0 0l20.0 -20.0M1082.3 736.2l20.0 20.0m-20.0 0l20.0 -20.0M1084.5 736.2l20.0 20.0m-20.0 0l20.0 -20.0M1086.8 735.3l20.0 20.0m-20.0 0l20.0 -20.0M1089.0 736.8l20.0 20.0m-20.0 0l20.0 -20.0M1091.2 738.2l20.0 20.0m-20.0 0l20.0 -20.0M1093.5 736.3l20.0 20.0m-20.0 0l20.0 -20.0M1095.7 736.4l20.0 20.0m-20.0 0l20.0 -20.0M1098.0 735.8l20.0 20.0m-20.0 0l20.0 -20.0M1100.2 737.1l20.0 20.0m-20.0 0l20.0 -20.0M1102.4 735.8l20.0 20.0m-20.0 0l20.0 -20.0M1104.7 736.0l20.0 20.0m-20.0 0l20.0 -20.0M1106.9 738.3l20.0 20.0m-20.0 0l20.0 -20.0M1109.2 736.4l20.0 20.0m-20.0 0l20.0 -20.0M1111.4 738.3l20.0 20.0m-20.0 0l20.0 -20.0M1113.6 738.8l20.0 20.0m-20.0 0l20.0 -20.0M1115.9 737.7l20.0 20.0m-20.0 0l20.0 -20.0M1118.1 738.1l20.0 20.0m-20.0 0l20.0 -20.0M1120.4 739.5l20.0 20.0m-20.0 0l20.0 -20.0M1122.6 737.6l20.0 20.0m-20.0 0l20.0 -20.0M1124.8 737.4l20.0 20.0m-20.0 0l20.0 -20.0M1127.1 736.8l20.0 20.0m-20.0 0l20.0 -20.0M1129.3 738.1l20.0 20.0m-20.0 0l20.0 -20.0M1131.6 739.5l20.0 20.0m-20.0 0l20.0 -20.0M1133.8 739.2l20.0 20.0m-20.0 0l20.0 -20.0M1136.1 737.5l20.0 20.0m-20.0 0l20.0 -20.0M1138.3 737.7l20.0 20.0m-20.0 0l20.0 -20.0M1140.5 738.1l20.0 20.0m-20.0 0l20.0 -20.0M1142.8 738.9l20.0 20.0m-20.0 0l20.0 -20.0M1145.0 738.6l20.0 20.0m-20.0 0l20.0 -20.0M1147.3 739.1l20.0 20.0m-20.0 0l20.0 -20.0M1149.5 739.2l20.0 20.0m-20.0 0l20.0 -20.0M1151.7 738.8l20.0 20.0m-20.0 0l20.0 -20.0M1154.0 739.1l20.0 20.0m-20.0 0l20.0 -20.0M1156.2 739.4l20.0 20.0m-20.0 0l20.0 -20.0M1158.5 739.2l20.0 20.0m-20.0 0l20.0 -20.0M1160.7 739.9l20.0 20.0m-20.0 0l20.0 -20.0M1162.9 741.2l20.0 20.0m-20.0 0l20.0 -20.0M1165.2 740.1l20.0 20.0m-20.0 0l20.0 -20.0M1167.4 739.7l20.0 20.0m-20.0 0l20.0 -20.0M1169.7 738.2l20.0 20.0m-20.0 0l20.0 -20.0M1171.9 740.2l20.0 20.0m-20.0 0l20.0 -20.0M1174.1 738.2l20.0 20.0m-20.0 0l20.0 -20.0M1176.4 738.7l20.0 20.0m-20.0 0l20.0 -20.0M1178.6 740.8l20.0 20.0m-20.0 0l20.0 -20.0M1180.9 740.8l20.0 20.0m-20.0 0l20.0 -20.0M1183.1 740.1l20.0 20.0m-20.0 0l20.0 -20.0M1185.3 738.8l20.0 20.0m-20.0 0l20.0 -20.0M1187.6 740.0l20.0 20.0m-20.0 0l20.0 -20.0M1189.8 739.8l20.0 20.0m-20.0 0l20.0 -20.0M1192.1 741.1l20.0 20.0m-20.0 0l20.0 -20.0M1194.3 742.6l20.0 20.0m-20.0 0l20.0 -20.0M1196.5 740.9l20.0 20.0m-20.0 0l20.0 -20.0M1198.8 740.0l20.0 20.0m-20.0 0l20.0 -20.0M1201.0 739.8l20.0 20.0m-20.0 0l20.0 -20.0M1203.3 740.8l20.0 20.0m-20.0 0l20.0 -20.0M1205.5 740.8l20.0 20.0m-20.0 0l20.0 -20.0M1207.8 740.0l20.0 20.0m-20.0 0l20.0 -20.0M1210.0 741.2l20.0 20.0m-20.0 0l20.0 -20.0M1212.2 740.1l20.0 20.0m-20.0 0l20.0 -20.0M1214.5 742.2l20.0 20.0m-20.0 0l20.0 -20.0M1216.7 742.2l20.0 20.0m-20.0 0l20.0 -20.0M1219.0 742.3l20.0 20.0m-20.0 0l20.0 -20.0M1221.2 741.0l20.0 20.0m-20.0 0l20.0 -20.0M1223.4 741.9l20.0 20.0m-20.0 0l20.0 -20.0M1225.7 741.4l20.0 20.0m-20.0 0l20.0 -20.0M1227.9 741.2l20.0 20.0m-20.0 0l20.0 -20.0M1230.2 741.3l20.0 20.0m-20.0 0l20.0 -20.0M1232.4 740.5l20.0 20.0m-20.0 0l20.0 -20.0M1234.6 740.4l20.0 20.0m-20.0 0l20.0 -20.0M1236.9 742.5l20.0 20.0m-20.0 0l20.0 -20.0M1239.1 741.7l20.0 20.0m-20.0 0l20.0 -20.0M1241.4 742.1l20.0 20.0m-20.0 0l20.0 -20.0M1243.6 742.8l20.0 20.0m-20.0 0l20.0 -20.0M1245.8 740.4l20.0 20.0m-20.0 0l20.0 -20.0M1248.1 741.3l20.0 20.0m-20.0 0l20.0 -20.0M1250.3 742.3l20.0 20.0m-20.0 0l20.0 -20.0M1252.6 742.5l20.0 20.0m-20.0 0l20.0 -20.0M1254.8 741.9l20.0 20.0m-20.0 0l20.0 -20.0M1257.0 743.2l20.0 20.0m-20.0 0l20.0 -20.0M1259.3 742.5l20.0 20.0m-20.0 0l20.0 -20.0M1261.5 741.2l20.0 20.0m-20.0 0l20.0 -20.0M1263.8 741.5l20.0 20.0m-20.0 0l20.0 -20.0M1266.0 743.2l20.0 20.0m-20.0 0l20.0 -20.0M1268.3 742.9l20.0 20.0m-20.0 0l20.0 -20.0M1270.5 740.8l20.0 20.0m-20.0 0l20.0 -20.0M1272.7 743.8l20.0 20.0m-20.0 0l20.0 -20.0M1275.0 743.1l20.0 20.0m-20.0 0l20.0 -20.0M1277.2 743.9l20.0 20.0m-20.0 0l20.0 -20.0M1279.5 742.3l20.0 20.0m-20.0 0l20.0 -20.0M1281.7 742.5l20.0 20.0m-20.0 0l20.0 -20.0M1283.9 741.7l20.0 20.0m-20.0 0l20.0 -20.0M1286.2 745.1l20.0 20.0m-20.0 0l20.0 -20.0M1288.4 742.7l20.0 20.0m-20.0 0l20.0 -20.0M1290.7 744.3l20.0 20.0m-20.0 0l20.0 -20.0M1292.9 742.3l20.0 20.0m-20.0 0l20.0 -20.0M1295.1 743.1l20.0 20.0m-20.0 0l20.0 -20.0M1297.4 741.5l20.0 20.0m-20.0 0l20.0 -20.0M1299.6 742.7l20.0 20.0m-20.0 0l20.0 -20.0M1301.9 743.9l20.0 20.0m-20.0 0l20.0 -20.0M1304.1 742.0l20.0 20.0m-20.0 0l20.0 -20.0M1306.3 744.1l20.0 20.0m-20.0 0l20.0 -20.0M1308.6 743.5l20.0 20.0m-20.0 0l20.0 -20.0M1310.8 742.2l20.0 20.0m-20.0 0l20.0 -20.0M1313.1 742.8l20.0 20.0m-20.0 0l20.0 -20.0M1315.3 742.8l20.0 20.0m-20.0 0l20.0 -20.0M1317.5 743.2l20.0 20.0m-20.0 0l20.0 -20.0M1319.8 742.8l20.0 20.0m-20.0 0l20.0 -20.0M1322.0 742.6l20.0 20.0m-20.0 0l20.0 -20.0M1324.3 743.1l20.0 20.0m-20.0 0l20.0 -20.0M1326.5 742.5l20.0 20.0m-20.0 0l20.0 -20.0M1328.7 742.3l20.0 20.0m-20.0 0l20.0 -20.0M1331.0 743.4l20.0 20.0m-20.0 0l20.0 -20.0M1333.2 744.3l20.0 20.0m-20.0 0l20.0 -20.0M1335.5 742.1l20.0 20.0m-20.0 0l20.0 -20.0M1337.7 743.5l20.0 20.0m-20.0 0l20.0 -20.0M1340.0 743.0l20.0 20.0m-20.0 0l20.0 -20.0M1342.2 742.7l20.0 20.0m-20.0 0l20.0 -20.0M1344.4 744.4l20.0 20.0m-20.0 0l20.0 -20.0M1346.7 743.2l20.0 20.0m-20.0 0l20.0 -20.0M1348.9 745.0l20.0 20.0m-20.0 0l20.0 -20.0M1351.2 743.0l20.0 20.0m-20.0 0l20.0 -20.0M1353.4 744.1l20.0 20.0m-20.0 0l20.0 -20.0M1355.6 743.5l20.0 20.0m-20.0 0l20.0 -20.0M1357.9 743.1l20.0 20.0m-20.0 0l20.0 -20.0M1360.1 744.3l20.0 20.0m-20.0 0l20.0 -20.0M1362.4 743.7l20.0 20.0m-20.0 0l20.0 -20.0M1364.6 744.4l20.0 20.0m-20.0 0l20.0 -20.0M1366.8 743.8l20.0 20.0m-20.0 0l20.0 -20.0M1369.1 742.9l20.0 20.0m-20.0 0l20.0 -20.0M1371.3 743.8l20.0 20.0m-20.0 0l20.0 -20.0M1373.6 743.9l20.0 20.0m-20.0 0l20.0 -20.0M1375.8 744.8l20.0 20.0m-20.0 0l20.0 -20.0M1378.0 743.1l20.0 20.0m-20.0 0l20.0 -20.0M1380.3 743.9l20.0 20.0m-20.0 0l20.0 -20.0M1382.5 742.4l20.0 20.0m-20.0 0l20.0 -20.0M1384.8 744.6l20.0 20.0m-20.0 0l20.0 -20.0M1387.0 743.0l20.0 20.0m-20.0 0l20.0 -20.0M1389.2 742.4l20.0 20.0m-20.0 0l20.0 -20.0M1391.5 744.0l20.0 20.0m-20.0 0l20.0 -20.0M1393.7 745.1l20.0 20.0m-20.0 0l20.0 -20.0M1396.0 742.7l20.0 20.0m-20.0 0l20.0 -20.0M1398.2 743.1l20.0 20.0m-20.0 0l20.0 -20.0M1400.4 743.5l20.0 20.0m-20.0 0l20.0 -20.0M1402.7 743.1l20.0 20.0m-20.0 0l20.0 -20.0M1404.9 744.5l20.0 20.0m-20.0 0l20.0 -20.0M1407.2 743.4l20.0 20.0m-20.0 0l20.0 -20.0M1409.4 743.5l20.0 20.0m-20.0 0l20.0 -20.0M1411.7 744.7l20.0 20.0m-20.0 0l20.0 -20.0M1413.9 743.5l20.0 20.0m-20.0 0l20.0 -20.0M1416.1 744.6l20.0 20.0m-20.0 0l20.0 -20.0M1418.4 743.4l20.0 20.0m-20.0 0l20.0 -20.0M1420.6 743.2l20.0 20.0m-20.0 0l20.0 -20.0M1422.9 742.6l20.0 20.0m-20.0 0l20.0 -20.0M1425.1 746.0l20.0 20.0m-20.0 0l20.0 -20.0M1427.3 744.0l20.0 20.0m-20.0 0l20.0 -20.0M1429.6 744.6l20.0 20.0m-20.0 0l20.0 -20.0M1431.8 744.3l20.0 20.0m-20.0 0l20.0 -20.0M1434.1 744.5l20.0 20.0m-20.0 0l20.0 -20.0M1436.3 744.4l20.0 20.0m-20.0 0l20.0 -20.0M1438.5 746.1l20.0 20.0m-20.0 0l20.0 -20.0M1440.8 743.5l20.0 20.0m-20.0 0l20.0 -20.0M1443.0 743.0l20.0 20.0m-20.0 0l20.0 -20.0M1445.3 743.5l20.0 20.0m-20.0 0l20.0 -20.0M1447.5 743.2l20.0 20.0m-20.0 0l20.0 -20.0M1449.7 745.1l20.0 20.0m-20.0 0l20.0 -20.0M1452.0 745.2l20.0 20.0m-20.0 0l20.0 -20.0M1454.2 743.6l20.0 20.0m-20.0 0l20.0 -20.0M1456.5 743.3l20.0 20.0m-20.0 0l20.0 -20.0M1458.7 744.2l20.0 20.0m-20.0 0l20.0 -20.0M1460.9 745.8l20.0 20.0m-20.0 0l20.0 -20.0M1463.2 742.0l20.0 20.0m-20.0 0l20.0 -20.0M1465.4 745.0l20.0 20.0m-20.0 0l20.0 -20.0M1467.7 743.6l20.0 20.0m-20.0 0l20.0 -20.0M1469.9 745.5l20.0 20.0m-20.0 0l20.0 -20.0M1472.2 743.6l20.0 20.0m-20.0 0l20.0 -20.0M1474.4 744.4l20.0 20.0m-20.0 0l20.0 -20.0M1476.6 743.3l20.0 20.0m-20.0 0l20.0 -20.0M1478.9 743.8l20.0 20.0m-20.0 0l20.0 -20.0M1481.1 745.9l20.0 20.0m-20.0 0l20.0 -20.0M1483.4 745.4l20.0 20.0m-20.0 0l20.0 -20.0M1485.6 744.3l20.0 20.0m-20.0 0l20.0 -20.0M1487.8 743.9l20.0 20.0m-20.0 0l20.0 -20.0M1490.1 743.0l20.0 20.0m-20.0 0l20.0 -20.0M1492.3 744.4l20.0 20.0m-20.0 0l20.0 -20.0M1494.6 744.7l20.0 20.0m-20.0 0l20.0 -20.0M1496.8 744.7l20.0 20.0m-20.0 0l20.0 -20.0M1499.0 744.7l20.0 20.0m-20.0 0l20.0 -20.0M1501.3 743.8l20.0 20.0m-20.0 0l20.0 -20.0M1503.5 744.8l20.0 20.0m-20.0 0l20.0 -20.0M1505.8 744.8l20.0 20.0m-20.0 0l20.0 -20.0M1508.0 746.0l20.0 20.0m-20.0 0l20.0 -20.0M1510.2 746.6l20.0 20.0m-20.0 0l20.0 -20.0M1512.5 744.8l20.0 20.0m-20.0 0l20.0 -20.0M1514.7 744.2l20.0 20.0m-20.0 0l20.0 -20.0M1517.0 744.9l20.0 20.0m-20.0 0l20.0 -20.0M1519.2 744.4l20.0 20.0m-20.0 0l20.0 -20.0M1521.4 744.3l20.0 20.0m-20.0 0l20.0 -20.0M1523.7 744.9l20.0 20.0m-20.0 0l20.0 -20.0M1525.9 744.1l20.0 20.0m-20.0 0l20.0 -20.0M1528.2 745.6l20.0 20.0m-20.0 0l20.0 -20.0M1530.4 745.0l20.0 20.0m-20.0 0l20.0 -20.0M1532.6 745.3l20.0 20.0m-20.0 0l20.0 -20.0M1534.9 744.9l20.0 20.0m-20.0 0l20.0 -20.0M1537.1 744.5l20.0 20.0m-20.0 0l20.0 -20.0M1539.4 744.3l20.0 20.0m-20.0 0l20.0 -20.0M1541.6 744.9l20.0 20.0m-20.0 0l20.0 -20.0M1543.9 744.7l20.0 20.0m-20.0 0l20.0 -20.0M1546.1 745.4l20.0 20.0m-20.0 0l20.0 -20.0M1548.3 745.2l20.0 20.0m-20.0 0l20.0 -20.0M1550.6 744.0l20.0 20.0m-20.0 0l20.0 -20.0M1552.8 745.3l20.0 20.0m-20.0 0l20.0 -20.0M1555.1 744.1l20.0 20.0m-20.0 0l20.0 -20.0M1557.3 744.8l20.0 20.0m-20.0 0l20.0 -20.0M1559.5 745.1l20.0 20.0m-20.0 0l20.0 -20.0M1561.8 743.5l20.0 20.0m-20.0 0l20.0 -20.0M1564.0 745.5l20.0 20.0m-20.0 0l20.0 -20.0M1566.3 745.5l20.0 20.0m-20.0 0l20.0 -20.0M1568.5 745.3l20.0 20.0m-20.0 0l20.0 -20.0M1570.7 745.1l20.0 20.0m-20.0 0l20.0 -20.0M1573.0 745.2l20.0 20.0m-20.0 0l20.0 -20.0M1575.2 744.6l20.0 20.0m-20.0 0l20.0 -20.0M1577.5 745.3l20.0 20.0m-20.0 0l20.0 -20.0M1579.7 745.1l20.0 20.0m-20.0 0l20.0 -20.0M1581.9 745.7l20.0 20.0m-20.0 0l20.0 -20.0M1584.2 744.5l20.0 20.0m-20.0 0l20.0 -20.0M1586.4 745.9l20.0 20.0m-20.0 0l20.0 -20.0M1588.7 745.8l20.0 20.0m-20.0 0l20.0 -20.0M1590.9 745.6l20.0 20.0m-20.0 0l20.0 -20.0M1593.1 745.4l20.0 20.0m-20.0 0l20.0 -20.0M1595.4 746.3l20.0 20.0m-20.0 0l20.0 -20.0M1597.6 744.3l20.0 20.0m-20.0 0l20.0 -20.0M1599.9 746.3l20.0 20.0m-20.0 0l20.0 -20.0M1602.1 746.1l20.0 20.0m-20.0 0l20.0 -20.0M1604.4 746.2l20.0 20.0m-20.0 0l20.0 -20.0M1606.6 746.3l20.0 20.0m-20.0 0l20.0 -20.0M1608.8 745.4l20.0 20.0m-20.0 0l20.0 -20.0M1611.1 745.8l20.0 20.0m-20.0 0l20.0 -20.0M1613.3 746.6l20.0 20.0m-20.0 0l20.0 -20.0M1615.6 746.5l20.0 20.0m-20.0 0l20.0 -20.0M1620.5 731.0l20.0 20.0m-20.0 0l20.0 -20.0" stroke="#000" stroke-width="1.5" fill="none"/>
<polyline points="362.9,150.2 366.7,149.0 370.4,151.6 374.1,152.8 377.9,153.3 381.6,153.1 385.3,152.0 389.1,155.2 392.8,154.9 396.5,153.3 400.3,157.0 404.0,156.0 407.8,157.0 411.5,158.6 415.2,161.4 419.0,160.7 422.7,162.3 426.4,164.8 430.2,165.7 433.9,165.1 437.6,166.0 441.4,166.1 445.1,167.9 448.8,170.2 452.6,171.3 456.3,172.3 460.0,174.4 463.8,173.9 467.5,175.9 471.2,178.1 475.0,179.3 478.7,181.1 482.4,181.9 486.2,182.6 489.9,184.7 493.6,184.8 497.4,185.7 501.1,189.5 504.8,190.4 508.6,192.3 512.3,191.9 516.1,194.8 519.8,196.3 523.5,197.7 527.3,197.9 531.0,201.6 534.7,204.5 538.5,205.8 542.2,206.6 545.9,208.9 549.7,211.5 553.4,209.8 557.1,214.3 560.9,216.9 564.6,218.9 568.3,221.8 572.1,223.2 575.8,224.3 579.5,226.2 583.3,228.7 587.0,229.4 590.7,231.9 594.5,234.9 598.2,238.0 601.9,238.0 605.7,240.1 609.4,242.5 613.1,245.8 616.9,246.5 620.6,250.2 624.3,249.9 628.1,252.9 631.8,255.1 635.6,258.2 639.3,260.7 643.0,260.4 646.8,263.3 650.5,266.8 654.2,268.1 658.0,269.5 661.7,274.4 665.4,276.1 669.2,278.5 672.9,279.9 676.6,283.7 680.4,284.8 684.1,288.5 687.8,288.9 691.6,291.4 695.3,294.9 699.0,296.4 702.8,300.2 706.5,302.2 710.2,303.5 714.0,306.9 717.7,309.0 721.4,312.8 725.2,313.7 728.9,316.5 732.6,320.7 736.4,324.4 740.1,326.8 743.9,327.5 747.6,330.4 751.3,334.5 755.1,335.6 758.8,337.6 762.5,341.6 766.3,344.9 770.0,346.7 773.7,349.0 777.5,352.3 781.2,357.7 784.9,359.5 788.7,363.5 792.4,367.3 796.1,371.2 799.9,373.9 803.6,378.4 807.3,380.8 811.1,385.2 814.8,388.6 818.5,394.8 822.3,397.8 826.0,401.4 829.7,406.2 833.5,410.8 837.2,416.3 840.9,418.8 844.7,424.2 848.4,429.8 852.2,437.8 855.9,441.5 859.6,445.8 863.4,452.1 867.1,459.1 870.8,462.6 874.6,468.3 878.3,475.9 882.0,481.3 885.8,487.6 889.5,492.7 893.2,501.5 897.0,507.7 900.7,512.9 904.4,519.5 908.2,523.3 911.9,532.5 915.6,538.1 919.4,545.3 923.1,552.0 926.8,557.4 930.6,562.5 934.3,570.9 938.0,576.1 941.8,582.7 945.5,588.6 949.2,594.9 953.0,598.9 956.7,608.3 960.4,613.1 964.2,619.6 967.9,625.9 971.7,629.4 975.4,632.8 979.1,638.9 982.9,643.6 986.6,649.2 990.3,654.6 994.1,657.1 997.8,664.0 1001.5,666.5 1005.3,672.5 1009.0,676.1 1012.7,679.9 1016.5,683.9 1020.2,687.0 1023.9,690.4 1027.7,692.6 1031.4,697.4 1035.1,702.3 1038.9,705.2 1042.6,707.2 1046.3,709.0 1050.1,709.9 1053.8,714.2 1057.5,714.6 1061.3,716.4 1065.0,717.8 1068.7,719.7 1072.5,720.5 1076.2,722.1 1080.0,722.2 1083.7,723.9 1087.4,727.5 1091.2,725.9 1094.9,726.5 1098.6,727.9 1102.4,728.7 1106.1,727.5 1109.8,728.9 1113.6,730.5 1117.3,730.3 1121.0,730.6 1124.8,732.4 1128.5,730.6 1132.2,731.8 1136.0,731.5 1139.7,733.9 1143.4,730.8 1147.2,732.5 1150.9,732.9 1154.6,734.5 1158.4,734.7 1162.1,735.8 1165.8,733.1 1169.6,735.8 1173.3,735.0 1177.0,734.9 1180.8,736.9 1184.5,734.1 1188.3,731.9 1192.0,735.7 1195.7,733.6 1199.5,735.6 1203.2,737.9 1206.9,738.0 1210.7,740.8 1214.4,737.2 1218.1,734.6 1221.9,736.4 1225.6,736.2 1229.3,735.7 1233.1,739.3 1236.8,737.2 1240.5,734.5 1244.3,740.2 1248.0,738.6 1251.7,739.7 1255.5,739.2 1259.2,740.4 1262.9,739.3 1266.7,741.8 1270.4,740.2 1274.1,740.2 1277.9,740.3 1281.6,736.4 1285.3,739.1 1289.1,739.0 1292.8,740.0 1296.5,736.7 1300.3,743.0 1304.0,739.8 1307.8,737.1 1311.5,736.0 1315.2,739.0 1319.0,739.4 1322.7,738.1 1326.4,739.8 1330.2,738.2 1333.9,740.7 1337.6,738.0 1341.4,739.4 1345.1,741.5 1348.8,744.8 1352.6,737.3 1356.3,738.4 1360.0,737.6 1363.8,740.9 1367.5,736.8 1371.2,738.2 1375.0,739.1 1378.7,737.0 1382.4,737.0 1386.2,738.0 1389.9,734.5 1393.6,735.8 1397.4,737.9 1401.1,739.1 1404.8,738.3 1408.6,734.9 1412.3,737.6 1416.1,740.2 1419.8,739.6 1423.5,738.2 1427.3,736.5 1431.0,739.6 1434.7,737.0 1438.5,735.7 1442.2,736.4 1445.9,741.1 1449.7,738.5 1453.4,740.4 1457.1,736.9 1460.9,739.8 1464.6,736.5 1468.3,737.4 1472.1,742.9 1475.8,739.3 1479.5,736.6 1483.3,737.4 1487.0,738.3 1490.7,740.1 1494.5,736.5 1498.2,733.8 1501.9,736.9 1505.7,737.5 1509.4,737.7 1513.1,740.2 1516.9,738.1 1520.6,734.4 1524.4,735.1 1528.1,739.3 1531.8,741.9 1535.6,739.1 1539.3,738.0 1543.0,737.9 1546.8,741.3 1550.5,735.7 1554.2,746.7 1558.0,738.7 1561.7,739.3 1565.4,736.9 1569.2,738.5 1572.9,737.4 1576.6,734.1 1580.4,737.9 1584.1,735.8 1587.8,738.3 1591.6,740.3 1595.3,736.5 1599.0,738.2 1602.8,740.2 1606.5,743.0 1610.2,739.5 1614.0,737.1 1617.7,741.8 1621.4,744.5 1625.2,744.1 1628.9,739.5" fill="none" stroke="#f00" stroke-width="4" stroke-linejoin="round"/>
<path d="M353.3 150.2a9.6 9.6 0 1 0 19.2 0a9.6 9.6 0 1 0 -19.2 0M357.1 149.0a9.6 9.6 0 1 0 19.2 0a9.6 9.6 0 1 0 -19.2 0M360.8 151.6a9.6 9.6 0 1 0 19.2 0a9.6 9.6 0 1 0 -19.2 0M364.5 152.8a9.6 9.6 0 1 0 19.2 0a9.6 9.6 0 1 0 -19.2 0M368.3 153.3a9.6 9.6 0 1 0 19.2 0a9.6 9.6 0 1 0 -19.2 0M372.0 153.1a9.6 9.6 0 1 0 19.2 0a9.6 9.6 0 1 0 -19.2 0M375.7 152.0a9.6 9.6 0 1 0 19.2 0a9.6 9.6 0 1 0 -19.2 0M379.5 155.2a9.6 9.6 0 1 0 19.2 0a9.6 9.6 0 1 0 -19.2 0M383.2 154.9a9.6 9.6 0 1 0 19.2 0a9.6 9.6 0 1 0 -19.2 0M386.9 153.3a9.6 9.6 0 1 0 19.2 0a9.6 9.6 0 1 0 -19.2 0M390.7 157.0a9.6 9.6 0 1 0 19.2 0a9.6 9.6 0 1 0 -19.2 0M394.4 156.0a9.6 9.6 0 1 0 19.2 0a9.6 9.6 0 1 0 -19.2 0M398.2 157.0a9.6 9.6 0 1 0 19.2 0a9.6 9.6 0 1 0 -19.2 0M401.9 158.6a9.6 9.6 0 1 0 19.2 0a9.6 9.6 0 1 0 -19.2 0M405.6 161.4a9.6 9.6 0 1 0 19.2 0a9.6 9.6 0 1 0 -19.2 0M409.4 160.7a9.6 9.6 0 1 0 19.2 0a9.6 9.6 0 1 0 -19.2 0M413.1 162.3a9.6 9.6 0 1 0 19.2 0a9.6 9.6 0 1 0 -19.2 0M416.8 164.8a9.6 9.6 0 1 0 19.2 0a9.6 9.6 0 1 0 -19.2 0M420.6 165.7a9.6 9.6 0 1 0 19.2 0a9.6 9.6 0 1 0 -19.2 0M424.3 165.1a9.6 9.6 0 1 0 19.2 0a9.6 9.6 0 1 0 -19.2 0M428.0 166.0a9.6 9.6 0 1 0 19.2 0a9.6 9.6 0 1 0 -19.2 0M431.8 166.1a9.6 9.6 0 1 0 19.2 0a9.6 9.6 0 1 0 -19.2 0M435.5 167.9a9.6 9.6 0 1 0 19.2 0a9.6 9.6 0 1 0 -19.2 0M439.2 170.2a9.6 9.6 0 1 0 19.2 0a9.6 9.6 0 1 0 -19.2 0M443.0 171.3a9.6 9.6 0 1 0 19.2 0a9.6 9.6 0 1 0 -19.2 0M446.7 172.3a9.6 9.6 0 1 0 19.2 0a9.6 9.6 0 1 0 -19.2 0M450.4 174.4a9.6 9.6 0 1 0 19.2 0a9.6 9.6 0 1 0 -19.2 0M454.2 173.9a9.6 9.6 0 1 0 19.2 0a9.6 9.6 0 1 0 -19.2 0M457.9 175.9a9.6 9.6 0 1 0 19.2 0a9.6 9.6 0 1 0 -19.2 0M461.6 178.1a9.6 9.6 0 1 0 19.2 0a9.6 9.6 0 1 0 -19.2 0M465.4 179.3a9.6 9.6 0 1 0 19.2 0a9.6 9.6 0 1 0 -19.2 0M469.1 181.1a9.6 9.6 0 1 0 19.2 0a9.6 9.6 0 1 0 -19.2 0M472.8 181.9a9.6 9.6 0 1 0 19.2 0a9.6 9.6 0 1 0 -19.2 0M476.6 182.6a9.6 9.6 0 1 0 19.2 0a9.6 9.6 0 1 0 -19.2 0M480.3 184.7a9.6 9.6 0 1 0 19.2 0a9.6 9.6 0 1 0 -19.2 0M484.0 184.8a9.6 9.6 0 1 0 19.2 0a9.6 9.6 0 1 0 -19.2 0M487.8 185.7a9.6 9.6 0 1 0 19.2 0a9.6 9.6 0 1 0 -19.2 0M491.5 189.5a9.6 9.6 0 1 0 19.2 0a9.6 9.6 0 1 0 -19.2 0M495.2 190.4a9.6 9.6 0 1 0 19.2 0a9.6 9.6 0 1 0 -19.2 0M499.0 192.3a9.6 9.6 0 1 0 19.2 0a9.6 9.6 0 1 0 -19.2 0M502.7 191.9a9.6 9.6 0 1 0 19.2 0a9.6 9.6 0 1 0 -19.2 0M506.5 194.8a9.6 9.6 0 1 0 19.2 0a9.6 9.6 0 1 0 -19.2 0M510.2 196.3a9.6 9.6 0 1 0 19.2 0a9.6 9.6 0 1 0 -19.2 0M513.9 197.7a9.6 9.6 0 1 0 19.2 0a9.6 9.6 0 1 0 -19.2 0M517.7 197.9a9.6 9.6 0 1 0 19.2 0a9.6 9.6 0 1 0 -19.2 0M521.4 201.6a9.6 9.6 0 1 0 19.2 0a9.6 9.6 0 1 0 -19.2 0M525.1 204.5a9.6 9.6 0 1 0 19.2 0a9.6 9.6 0 1 0 -19.2 0M528.9 205.8a9.6 9.6 0 1 0 19.2 0a9.6 9.6 0 1 0 -19.2 0M532.6 206.6a9.6 9.6 0 1 0 19.2 0a9.6 9.6 0 1 0 -19.2 0M536.3 208.9a9.6 9.6 0 1 0 19.2 0a9.6 9.6 0 1 0 -19.2 0M540.1 211.5a9.6 9.6 0 1 0 19.2 0a9.6 9.6 0 1 0 -19.2 0M543.8 209.8a9.6 9.6 0 1 0 19.2 0a9.6 9.6 0 1 0 -19.2 0M547.5 214.3a9.6 9.6 0 1 0 19.2 0a9.6 9.6 0 1 0 -19.2 0M551.3 216.9a9.6 9.6 0 1 0 19.2 0a9.6 9.6 0 1 0 -19.2 0M555.0 218.9a9.6 9.6 0 1 0 19.2 0a9.6 9.6 0 1 0 -19.2 0M558.7 221.8a9.6 9.6 0 1 0 19.2 0a9.6 9.6 0 1 0 -19.2 0M562.5 223.2a9.6 9.6 0 1 0 19.2 0a9.6 9.6 0 1 0 -19.2 0M566.2 224.3a9.6 9.6 0 1 0 19.2 0a9.6 9.6 0 1 0 -19.2 0M569.9 226.2a9.6 9.6 0 1 0 19.2 0a9.6 9.6 0 1 0 -19.2 0M573.7 228.7a9.6 9.6 0 1 0 19.2 0a9.6 9.6 0 1 0 -19.2 0M577.4 229.4a9.6 9.6 0 1 0 19.2 0a9.6 9.6 0 1 0 -19.2 0M581.1 231.9a9.6 9.6 0 1 0 19.2 0a9.6 9.6 0 1 0 -19.2 0M584.9 234.9a9.6 9.6 0 1 0 19.2 0a9.6 9.6 0 1 0 -19.2 0M588.6 238.0a9.6 9.6 0 1 0 19.2 0a9.6 9.6 0 1 0 -19.2 0M592.3 238.0a9.6 9.6 0 1 0 19.2 0a9.6 9.6 0 1 0 -19.2 0M596.1 240.1a9.6 9.6 0 1 0 19.2 0a9.6 9.6 0 1 0 -19.2 0M599.8 242.5a9.6 9.6 0 1 0 19.2 0a9.6 9.6 0 1 0 -19.2 0M603.5 245.8a9.6 9.6 0 1 0 19.2 0a9.6 9.6 0 1 0 -19.2 0M607.3 246.5a9.6 9.6 0 1 0 19.2 0a9.6 9.6 0 1 0 -19.2 0M611.0 250.2a9.6 9.6 0 1 0 19.2 0a9.6 9.6 0 1 0 -19.2 0M614.7 249.9a9.6 9.6 0 1 0 19.2 0a9.6 9.6 0 1 0 -19.2 0M618.5 252.9a9.6 9.6 0 1 0 19.2 0a9.6 9.6 0 1 0 -19.2 0M622.2 255.1a9.6 9.6 0 1 0 19.2 0a9.6 9.6 0 1 0 -19.2 0M626.0 258.2a9.6 9.6 0 1 0 19.2 0a9.6 9.6 0 1 0 -19.2 0M629.7 260.7a9.6 9.6 0 1 0 19.2 0a9.6 9.6 0 1 0 -19.2 0M633.4 260.4a9.6 9.6 0 1 0 19.2 0a9.6 9.6 0 1 0 -19.2 0M637.2 263.3a9.6 9.6 0 1 0 19.2 0a9.6 9.6 0 1 0 -19.2 0M640.9 266.8a9.6 9.6 0 1 0 19.2 0a9.6 9.6 0 1 0 -19.2 0M644.6 268.1a9.6 9.6 0 1 0 19.2 0a9.6 9.6 0 1 0 -19.2 0M648.4 269.5a9.6 9.6 0 1 0 19.2 0a9.6 9.6 0 1 0 -19.2 0M652.1 274.4a9.6 9.6 0 1 0 19.2 0a9.6 9.6 0 1 0 -19.2 0M655.8 276.1a9.6 9.6 0 1 0 19.2 0a9.6 9.6 0 1 0 -19.2 0M659.6 278.5a9.6 9.6 0 1 0 19.2 0a9.6 9.6 0 1 0 -19.2 0M663.3 279.9a9.6 9.6 0 1 0 19.2 0a9.6 9.6 0 1 0 -19.2 0M667.0 283.7a9.6 9.6 0 1 0 19.2 0a9.6 9.6 0 1 0 -19.2 0M670.8 284.8a9.6 9.6 0 1 0 19.2 0a9.6 9.6 0 1 0 -19.2 0M674.5 288.5a9.6 9.6 0 1 0 19.2 0a9.6 9.6 0 1 0 -19.2 0M678.2 288.9a9.6 9.6 0 1 0 19.2 0a9.6 9.6 0 1 0 -19.2 0M682.0 291.4a9.6 9.6 0 1 0 19.2 0a9.6 9.6 0 1 0 -19.2 0M685.7 294.9a9.6 9.6 0 1 0 19.2 0a9.6 9.6 0 1 0 -19.2 0M689.4 296.4a9.6 9.6 0 1 0 19.2 0a9.6 9.6 0 1 0 -19.2 0M693.2 300.2a9.6 9.6 0 1 0 19.2 0a9.6 9.6 0 1 0 -19.2 0M696.9 302.2a9.6 9.6 0 1 0 19.2 0a9.6 9.6 0 1 0 -19.2 0M700.6 303.5a9.6 9.6 0 1 0 19.2 0a9.6 9.6 0 1 0 -19.2 0M704.4 306.9a9.6 9.6 0 1 0 19.2 0a9.6 9.6 0 1 0 -19.2 0M708.1 309.0a9.6 9.6 0 1 0 19.2 0a9.6 9.6 0 1 0 -19.2 0M711.8 312.8a9.6 9.6 0 1 0 19.2 0a9.6 9.6 0 1 0 -19.2 0M715.6 313.7a9.6 9.6 0 1 0 19.2 0a9.6 9.6 0 1 0 -19.2 0M719.3 316.5a9.6 9.6 0 1 0 19.2 0a9.6 9.6 0 1 0 -19.2 0M723.0 320.7a9.6 9.6 0 1 0 19.2 0a9.6 9.6 0 1 0 -19.2 0M726.8 324.4a9.6 9.6 0 1 0 19.2 0a9.6 9.6 0 1 0 -19.2 0M730.5 326.8a9.6 9.6 0 1 0 19.2 0a9.6 9.6 0 1 0 -19.2 0M734.3 327.5a9.6 9.6 0 1 0 19.2 0a9.6 9.6 0 1 0 -19.2 0M738.0 330.4a9.6 9.6 0 1 0 19.2 0a9.6 9.6 0 1 0 -19.2 0M741.7 334.5a9.6 9.6 0 1 0 19.2 0a9.6 9.6 0 1 0 -19.2 0M745.5 335.6a9.6 9.6 0 1 0 19.2 0a9.6 9.6 0 1 0 -19.2 0M749.2 337.6a9.6 9.6 0 1 0 19.2 0a9.6 9.6 0 1 0 -19.2 0M752.9 341.6a9.6 9.6 0 1 0 19.2 0a9.6 9.6 0 1 0 -19.2 0M756.7 344.9a9.6 9.6 0 1 0 19.2 0a9.6 9.6 0 1 0 -19.2 0M760.4 346.7a9.6 9.6 0 1 0 19.2 0a9.6 9.6 0 1 0 -19.2 0M764.1 349.0a9.6 9.6 0 1 0 19.2 0a9.6 9.6 0 1 0 -19.2 0M767.9 352.3a9.6 9.6 0 1 0 19.2 0a9.6 9.6 0 1 0 -19.2 0M771.6 357.7a9.6 9.6 0 1 0 19.2 0a9.6 9.6 0 1 0 -19.2 0M775.3 359.5a9.6 9.6 0 1 0 19.2 0a9.6 9.6 0 1 0 -19.2 0M779.1 363.5a9.6 9.6 0 1 0 19.2 0a9.6 9.6 0 1 0 -19.2 0M782.8 367.3a9.6 9.6 0 1 0 19.2 0a9.6 9.6 0 1 0 -19.2 0M786.5 371.2a9.6 9.6 0 1 0 19.2 0a9.6 9.6 0 1 0 -19.2 0M790.3 373.9a9.6 9.6 0 1 0 19.2 0a9.6 9.6 0 1 0 -19.2 0M794.0 378.4a9.6 9.6 0 1 0 19.2 0a9.6 9.6 0 1 0 -19.2 0M797.7 380.8a9.6 9.6 0 1 0 19.2 0a9.6 9.6 0 1 0 -19.2 0M801.5 385.2a9.6 9.6 0 1 0 19.2 0a9.6 9.6 0 1 0 -19.2 0M805.2 388.6a9.6 9.6 0 1 0 19.2 0a9.6 9.6 0 1 0 -19.2 0M808.9 394.8a9.6 9.6 0 1 0 19.2 0a9.6 9.6 0 1 0 -19.2 0M812.7 397.8a9.6 9.6 0 1 0 19.2 0a9.6 9.6 0 1 0 -19.2 0M816.4 401.4a9.6 9.6 0 1 0 19.2 0a9.6 9.6 0 1 0 -19.2 0M820.1 406.2a9.6 9.6 0 1 0 19.2 0a9.6 9.6 0 1 0 -19.2 0M823.9 410.8a9.6 9.6 0 1 0 19.2 0a9.6 9.6 0 1 0 -19.2 0M827.6 416.3a9.6 9.6 0 1 0 19.2 0a9.6 9.6 0 1 0 -19.2 0M831.3 418.8a9.6 9.6 0 1 0 19.2 0a9.6 9.6 0 1 0 -19.2 0M835.1 424.2a9.6 9.6 0 1 0 19.2 0a9.6 9.6 0 1 0 -19.2 0M838.8 429.8a9.6 9.6 0 1 0 19.2 0a9.6 9.6 0 1 0 -19.2 0M842.6 437.8a9.6 9.6 0 1 0 19.2 0a9.6 9.6 0 1 0 -19.2 0M846.3 441.5a9.6 9.6 0 1 0 19.2 0a9.6 9.6 0 1 0 -19.2 0M850.0 445.8a9.6 9.6 0 1 0 19.2 0a9.6 9.6 0 1 0 -19.2 0M853.8 452.1a9.6 9.6 0 1 0 19.2 0a9.6 9.6 0 1 0 -19.2 0M857.5 459.1a9.6 9.6 0 1 0 19.2 0a9.6 9.6 0 1 0 -19.2 0M861.2 462.6a9.6 9.6 0 1 0 19.2 0a9.6 9.6 0 1 0 -19.2 0M865.0 468.3a9.6 9.6 0 1 0 19.2 0a9.6 9.6 0 1 0 -19.2 0M868.7 475.9a9.6 9.6 0 1 0 19.2 0a9.6 9.6 0 1 0 -19.2 0M872.4 481.3a9.6 9.6 0 1 0 19.2 0a9.6 9.6 0 1 0 -19.2 0M876.2 487.6a9.6 9.6 0 1 0 19.2 0a9.6 9.6 0 1 0 -19.2 0M879.9 492.7a9.6 9.6 0 1 0 19.2 0a9.6 9.6 0 1 0 -19.2 0M883.6 501.5a9.6 9.6 0 1 0 19.2 0a9.6 9.6 0 1 0 -19.2 0M887.4 507.7a9.6 9.6 0 1 0 19.2 0a9.6 9.6 0 1 0 -19.2 0M891.1 512.9a9.6 9.6 0 1 0 19.2 0a9.6 9.6 0 1 0 -19.2 0M894.8 519.5a9.6 9.6 0 1 0 19.2 0a9.6 9.6 0 1 0 -19.2 0M898.6 523.3a9.6 9.6 0 1 0 19.2 0a9.6 9.6 0 1 0 -19.2 0M902.3 532.5a9.6 9.6 0 1 0 19.2 0a9.6 9.6 0 1 0 -19.2 0M906.0 538.1a9.6 9.6 0 1 0 19.2 0a9.6 9.6 0 1 0 -19.2 0M909.8 545.3a9.6 9.6 0 1 0 19.2 0a9.6 9.6 0 1 0 -19.2 0M913.5 552.0a9.6 9.6 0 1 0 19.2 0a9.6 9.6 0 1 0 -19.2 0M917.2 557.4a9.6 9.6 0 1 0 19.2 0a9.6 9.6 0 1 0 -19.2 0M921.0 562.5a9.6 9.6 0 1 0 19.2 0a9.6 9.6 0 1 0 -19.2 0M924.7 570.9a9.6 9.6 0 1 0 19.2 0a9.6 9.6 0 1 0 -19.2 0M928.4 576.1a9.6 9.6 0 1 0 19.2 0a9.6 9.6 0 1 0 -19.2 0M932.2 582.7a9.6 9.6 0 1 0 19.2 0a9.6 9.6 0 1 0 -19.2 0M935.9 588.6a9.6 9.6 0 1 0 19.2 0a9.6 9.6 0 1 0 -19.2 0M939.6 594.9a9.6 9.6 0 1 0 19.2 0a9.6 9.6 0 1 0 -19.2 0M943.4 598.9a9.6 9.6 0 1 0 19.2 0a9.6 9.6 0 1 0 -19.2 0M947.1 608.3a9.6 9.6 0 1 0 19.2 0a9.6 9.6 0 1 0 -19.2 0M950.8 613.1a9.6 9.6 0 1 0 19.2 0a9.6 9.6 0 1 0 -19.2 0M954.6 619.6a9.6 9.6 0 1 0 19.2 0a9.6 9.6 0 1 0 -19.2 0M958.3 625.9a9.6 9.6 0 1 0 19.2 0a9.6 9.6 0 1 0 -19.2 0M962.1 629.4a9.6 9.6 0 1 0 19.2 0a9.6 9.6 0 1 0 -19.2 0M965.8 632.8a9.6 9.6 0 1 0 19.2 0a9.6 9.6 0 1 0 -19.2 0M969.5 638.9a9.6 9.6 0 1 0 19.2 0a9.6 9.6 0 1 0 -19.2 0M973.3 643.6a9.6 9.6 0 1 0 19.2 0a9.6 9.6 0 1 0 -19.2 0M977.0 649.2a9.6 9.6 0 1 0 19.2 0a9.6 9.6 0 1 0 -19.2 0M980.7 654.6a9.6 9.6 0 1 0 19.2 0a9.6 9.6 0 1 0 -19.2 0M984.5 657.1a9.6 9.6 0 1 0 19.2 0a9.6 9.6 0 1 0 -19.2 0M988.2 664.0a9.6 9.6 0 1 0 19.2 0a9.6 9.6 0 1 0 -19.2 0M991.9 666.5a9.6 9.6 0 1 0 19.2 0a9.6 9.6 0 1 0 -19.2 0M995.7 672.5a9.6 9.6 0 1 0 19.2 0a9.6 9.6 0 1 0 -19.2 0M999.4 676.1a9.6 9.6 0 1 0 19.2 0a9.6 9.6 0 1 0 -19.2 0M1003.1 679.9a9.6 9.6 0 1 0 19.2 0a9.6 9.6 0 1 0 -19.2 0M1006.9 683.9a9.6 9.6 0 1 0 19.2 0a9.6 9.6 0 1 0 -19.2 0M1010.6 687.0a9.6 9.6 0 1 0 19.2 0a9.6 9.6 0 1 0 -19.2 0M1014.3 690.4a9.6 9.6 0 1 0 19.2 0a9.6 9.6 0 1 0 -19.2 0M1018.1 692.6a9.6 9.6 0 1 0 19.2 0a9.6 9.6 0 1 0 -19.2 0M1021.8 697.4a9.6 9.6 0 1 0 19.2 0a9.6 9.6 0 1 0 -19.2 0M1025.5 702.3a9.6 9.6 0 1 0 19.2 0a9.6 9.6 0 1 0 -19.2 0M1029.3 705.2a9.6 9.6 0 1 0 19.2 0a9.6 9.6 0 1 0 -19.2 0M1033.0 707.2a9.6 9.6 0 1 0 19.2 0a9.6 9.6 0 1 0 -19.2 0M1036.7 709.0a9.6 9.6 0 1 0 19.2 0a9.6 9.6 0 1 0 -19.2 0M1040.5 709.9a9.6 9.6 0 1 0 19.2 0a9.6 9.6 0 1 0 -19.2 0M1044.2 714.2a9.6 9.6 0 1 0 19.2 0a9.6 9.6 0 1 0 -19.2 0M1047.9 714.6a9.6 9.6 0 1 0 19.2 0a9.6 9.6 0 1 0 -19.2 0M1051.7 716.4a9.6 9.6 0 1 0 19.2 0a9.6 9.6 0 1 0 -19.2 0M1055.4 717.8a9.6 9.6 0 1 0 19.2 0a9.6 9.6 0 1 0 -19.2 0M1059.1 719.7a9.6 9.6 0 1 0 19.2 0a9.6 9.6 0 1 0 -19.2 0M1062.9 720.5a9.6 9.6 0 1 0 19.2 0a9.6 9.6 0 1 0 -19.2 0M1066.6 722.1a9.6 9.6 0 1 0 19.2 0a9.6 9.6 0 1 0 -19.2 0M1070.4 722.2a9.6 9.6 0 1 0 19.2 0a9.6 9.6 0 1 0 -19.2 0M1074.1 723.9a9.6 9.6 0 1 0 19.2 0a9.6 9.6 0 1 0 -19.2 0M1077.8 727.5a9.6 9.6 0 1 0 19.2 0a9.6 9.6 0 1 0 -19.2 0M1081.6 725.9a9.6 9.6 0 1 0 19.2 0a9.6 9.6 0 1 0 -19.2 0M1085.3 726.5a9.6 9.6 0 1 0 19.2 0a9.6 9.6 0 1 0 -19.2 0M1089.0 727.9a9.6 9.6 0 1 0 19.2 0a9.6 9.6 0 1 0 -19.2 0M1092.8 728.7a9.6 9.6 0 1 0 19.2 0a9.6 9.6 0 1 0 -19.2 0M1096.5 727.5a9.6 9.6 0 1 0 19.2 0a9.6 9.6 0 1 0 -19.2 0M1100.2 728.9a9.6 9.6 0 1 0 19.2 0a9.6 9.6 0 1 0 -19.2 0M1104.0 730.5a9.6 9.6 0 1 0 19.2 0a9.6 9.6 0 1 0 -19.2 0M1107.7 730.3a9.6 9.6 0 1 0 19.2 0a9.6 9.6 0 1 0 -19.2 0M1111.4 730.6a9.6 9.6 0 1 0 19.2 0a9.6 9.6 0 1 0 -19.2 0M1115.2 732.4a9.6 9.6 0 1 0 19.2 0a9.6 9.6 0 1 0 -19.2 0M1118.9 730.6a9.6 9.6 0 1 0 19.2 0a9.6 9.6 0 1 0 -19.2 0M1122.6 731.8a9.6 9.6 0 1 0 19.2 0a9.6 9.6 0 1 0 -19.2 0M1126.4 731.5a9.6 9.6 0 1 0 19.2 0a9.6 9.6 0 1 0 -19.2 0M1130.1 733.9a9.6 9.6 0 1 0 19.2 0a9.6 9.6 0 1 0 -19.2 0M1133.8 730.8a9.6 9.6 0 1 0 19.2 0a9.6 9.6 0 1 0 -19.2 0M1137.6 732.5a9.6 9.6 0 1 0 19.2 0a9.6 9.6 0 1 0 -19.2 0M1141.3 732.9a9.6 9.6 0 1 0 19.2 0a9.6 9.6 0 1 0 -19.2 0M1145.0 734.5a9.6 9.6 0 1 0 19.2 0a9.6 9.6 0 1 0 -19.2 0M1148.8 734.7a9.6 9.6 0 1 0 19.2 0a9.6 9.6 0 1 0 -19.2 0M1152.5 735.8a9.6 9.6 0 1 0 19.2 0a9.6 9.6 0 1 0 -19.2 0M1156.2 733.1a9.6 9.6 0 1 0 19.2 0a9.6 9.6 0 1 0 -19.2 0M1160.0 735.8a9.6 9.6 0 1 0 19.2 0a9.6 9.6 0 1 0 -19.2 0M1163.7 735.0a9.6 9.6 0 1 0 19.2 0a9.6 9.6 0 1 0 -19.2 0M1167.4 734.9a9.6 9.6 0 1 0 19.2 0a9.6 9.6 0 1 0 -19.2 0M1171.2 736.9a9.6 9.6 0 1 0 19.2 0a9.6 9.6 0 1 0 -19.2 0M1174.9 734.1a9.6 9.6 0 1 0 19.2 0a9.6 9.6 0 1 0 -19.2 0M1178.7 731.9a9.6 9.6 0 1 0 19.2 0a9.6 9.6 0 1 0 -19.2 0M1182.4 735.7a9.6 9.6 0 1 0 19.2 0a9.6 9.6 0 1 0 -19.2 0M1186.1 733.6a9.6 9.6 0 1 0 19.2 0a9.6 9.6 0 1 0 -19.2 0M1189.9 735.6a9.6 9.6 0 1 0 19.2 0a9.6 9.6 0 1 0 -19.2 0M1193.6 737.9a9.6 9.6 0 1 0 19.2 0a9.6 9.6 0 1 0 -19.2 0M1197.3 738.0a9.6 9.6 0 1 0 19.2 0a9.6 9.6 0 1 0 -19.2 0M1201.1 740.8a9.6 9.6 0 1 0 19.2 0a9.6 9.6 0 1 0 -19.2 0M1204.8 737.2a9.6 9.6 0 1 0 19.2 0a9.6 9.6 0 1 0 -19.2 0M1208.5 734.6a9.6 9.6 0 1 0 19.2 0a9.6 9.6 0 1 0 -19.2 0M1212.3 736.4a9.6 9.6 0 1 0 19.2 0a9.6 9.6 0 1 0 -19.2 0M1216.0 736.2a9.6 9.6 0 1 0 19.2 0a9.6 9.6 0 1 0 -19.2 0M1219.7 735.7a9.6 9.6 0 1 0 19.2 0a9.6 9.6 0 1 0 -19.2 0M1223.5 739.3a9.6 9.6 0 1 0 19.2 0a9.6 9.6 0 1 0 -19.2 0M1227.2 737.2a9.6 9.6 0 1 0 19.2 0a9.6 9.6 0 1 0 -19.2 0M1230.9 734.5a9.6 9.6 0 1 0 19.2 0a9.6 9.6 0 1 0 -19.2 0M1234.7 740.2a9.6 9.6 0 1 0 19.2 0a9.6 9.6 0 1 0 -19.2 0M1238.4 738.6a9.6 9.6 0 1 0 19.2 0a9.6 9.6 0 1 0 -19.2 0M1242.1 739.7a9.6 9.6 0 1 0 19.2 0a9.6 9.6 0 1 0 -19.2 0M1245.9 739.2a9.6 9.6 0 1 0 19.2 0a9.6 9.6 0 1 0 -19.2 0M1249.6 740.4a9.6 9.6 0 1 0 19.2 0a9.6 9.6 0 1 0 -19.2 0M1253.3 739.3a9.6 9.6 0 1 0 19.2 0a9.6 9.6 0 1 0 -19.2 0M1257.1 741.8a9.6 9.6 0 1 0 19.2 0a9.6 9.6 0 1 0 -19.2 0M1260.8 740.2a9.6 9.6 0 1 0 19.2 0a9.6 9.6 0 1 0 -19.2 0M1264.5 740.2a9.6 9.6 0 1 0 19.2 0a9.6 9.6 0 1 0 -19.2 0M1268.3 740.3a9.6 9.6 0 1 0 19.2 0a9.6 9.6 0 1 0 -19.2 0M1272.0 736.4a9.6 9.6 0 1 0 19.2 0a9.6 9.6 0 1 0 -19.2 0M1275.7 739.1a9.6 9.6 0 1 0 19.2 0a9.6 9.6 0 1 0 -19.2 0M1279.5 739.0a9.6 9.6 0 1 0 19.2 0a9.6 9.6 0 1 0 -19.2 0M1283.2 740.0a9.6 9.6 0 1 0 19.2 0a9.6 9.6 0 1 0 -19.2 0M1286.9 736.7a9.6 9.6 0 1 0 19.2 0a9.6 9.6 0 1 0 -19.2 0M1290.7 743.0a9.6 9.6 0 1 0 19.2 0a9.6 9.6 0 1 0 -19.2 0M1294.4 739.8a9.6 9.6 0 1 0 19.2 0a9.6 9.6 0 1 0 -19.2 0M1298.2 737.1a9.6 9.6 0 1 0 19.2 0a9.6 9.6 0 1 0 -19.2 0M1301.9 736.0a9.6 9.6 0 1 0 19.2 0a9.6 9.6 0 1 0 -19.2 0M1305.6 739.0a9.6 9.6 0 1 0 19.2 0a9.6 9.6 0 1 0 -19.2 0M1309.4 739.4a9.6 9.6 0 1 0 19.2 0a9.6 9.6 0 1 0 -19.2 0M1313.1 738.1a9.6 9.6 0 1 0 19.2 0a9.6 9.6 0 1 0 -19.2 0M1316.8 739.8a9.6 9.6 0 1 0 19.2 0a9.6 9.6 0 1 0 -19.2 0M1320.6 738.2a9.6 9.6 0 1 0 19.2 0a9.6 9.6 0 1 0 -19.2 0M1324.3 740.7a9.6 9.6 0 1 0 19.2 0a9.6 9.6 0 1 0 -19.2 0M1328.0 738.0a9.6 9.6 0 1 0 19.2 0a9.6 9.6 0 1 0 -19.2 0M1331.8 739.4a9.6 9.6 0 1 0 19.2 0a9.6 9.6 0 1 0 -19.2 0M1335.5 741.5a9.6 9.6 0 1 0 19.2 0a9.6 9.6 0 1 0 -19.2 0M1339.2 744.8a9.6 9.6 0 1 0 19.2 0a9.6 9.6 0 1 0 -19.2 0M1343.0 737.3a9.6 9.6 0 1 0 19.2 0a9.6 9.6 0 1 0 -19.2 0M1346.7 738.4a9.6 9.6 0 1 0 19.2 0a9.6 9.6 0 1 0 -19.2 0M1350.4 737.6a9.6 9.6 0 1 0 19.2 0a9.6 9.6 0 1 0 -19.2 0M1354.2 740.9a9.6 9.6 0 1 0 19.2 0a9.6 9.6 0 1 0 -19.2 0M1357.9 736.8a9.6 9.6 0 1 0 19.2 0a9.6 9.6 0 1 0 -19.2 0M1361.6 738.2a9.6 9.6 0 1 0 19.2 0a9.6 9.6 0 1 0 -19.2 0M1365.4 739.1a9.6 9.6 0 1 0 19.2 0a9.6 9.6 0 1 0 -19.2 0M1369.1 737.0a9.6 9.6 0 1 0 19.2 0a9.6 9.6 0 1 0 -19.2 0M1372.8 737.0a9.6 9.6 0 1 0 19.2 0a9.6 9.6 0 1 0 -19.2 0M1376.6 738.0a9.6 9.6 0 1 0 19.2 0a9.6 9.6 0 1 0 -19.2 0M1380.3 734.5a9.6 9.6 0 1 0 19.2 0a9.6 9.6 0 1 0 -19.2 0M1384.0 735.8a9.6 9.6 0 1 0 19.2 0a9.6 9.6 0 1 0 -19.2 0M1387.8 737.9a9.6 9.6 0 1 0 19.2 0a9.6 9.6 0 1 0 -19.2 0M1391.5 739.1a9.6 9.6 0 1 0 19.2 0a9.6 9.6 0 1 0 -19.2 0M1395.2 738.3a9.6 9.6 0 1 0 19.2 0a9.6 9.6 0 1 0 -19.2 0M1399.0 734.9a9.6 9.6 0 1 0 19.2 0a9.6 9.6 0 1 0 -19.2 0M1402.7 737.6a9.6 9.6 0 1 0 19.2 0a9.6 9.6 0 1 0 -19.2 0M1406.5 740.2a9.6 9.6 0 1 0 19.2 0a9.6 9.6 0 1 0 -19.2 0M1410.2 739.6a9.6 9.6 0 1 0 19.2 0a9.6 9.6 0 1 0 -19.2 0M1413.9 738.2a9.6 9.6 0 1 0 19.2 0a9.6 9.6 0 1 0 -19.2 0M1417.7 736.5a9.6 9.6 0 1 0 19.2 0a9.6 9.6 0 1 0 -19.2 0M1421.4 739.6a9.6 9.6 0 1 0 19.2 0a9.6 9.6 0 1 0 -19.2 0M1425.1 737.0a9.6 9.6 0 1 0 19.2 0a9.6 9.6 0 1 0 -19.2 0M1428.9 735.7a9.6 9.6 0 1 0 19.2 0a9.6 9.6 0 1 0 -19.2 0M1432.6 736.4a9.6 9.6 0 1 0 19.2 0a9.6 9.6 0 1 0 -19.2 0M1436.3 741.1a9.6 9.6 0 1 0 19.2 0a9.6 9.6 0 1 0 -19.2 0M1440.1 738.5a9.6 9.6 0 1 0 19.2 0a9.6 9.6 0 1 0 -19.2 0M1443.8 740.4a9.6 9.6 0 1 0 19.2 0a9.6 9.6 0 1 0 -19.2 0M1447.5 736.9a9.6 9.6 0 1 0 19.2 0a9.6 9.6 0 1 0 -19.2 0M1451.3 739.8a9.6 9.6 0 1 0 19.2 0a9.6 9.6 0 1 0 -19.2 0M1455.0 736.5a9.6 9.6 0 1 0 19.2 0a9.6 9.6 0 1 0 -19.2 0M1458.7 737.4a9.6 9.6 0 1 0 19.2 0a9.6 9.6 0 1 0 -19.2 0M1462.5 742.9a9.6 9.6 0 1 0 19.2 0a9.6 9.6 0 1 0 -19.2 0M1466.2 739.3a9.6 9.6 0 1 0 19.2 0a9.6 9.6 0 1 0 -19.2 0M1469.9 736.6a9.6 9.6 0 1 0 19.2 0a9.6 9.6 0 1 0 -19.2 0M1473.7 737.4a9.6 9.6 0 1 0 19.2 0a9.6 9.6 0 1 0 -19.2 0M1477.4 738.3a9.6 9.6 0 1 0 19.2 0a9.6 9.6 0 1 0 -19.2 0M1481.1 740.1a9.6 9.6 0 1 0 19.2 0a9.6 9.6 0 1 0 -19.2 0M1484.9 736.5a9.6 9.6 0 1 0 19.2 0a9.6 9.6 0 1 0 -19.2 0M1488.6 733.8a9.6 9.6 0 1 0 19.2 0a9.6 9.6 0 1 0 -19.2 0M1492.3 736.9a9.6 9.6 0 1 0 19.2 0a9.6 9.6 0 1 0 -19.2 0M1496.1 737.5a9.6 9.6 0 1 0 19.2 0a9.6 9.6 0 1 0 -19.2 0M1499.8 737.7a9.6 9.6 0 1 0 19.2 0a9.6 9.6 0 1 0 -19.2 0M1503.5 740.2a9.6 9.6 0 1 0 19.2 0a9.6 9.6 0 1 0 -19.2 0M1507.3 738.1a9.6 9.6 0 1 0 19.2 0a9.6 9.6 0 1 0 -19.2 0M1511.0 734.4a9.6 9.6 0 1 0 19.2 0a9.6 9.6 0 1 0 -19.2 0M1514.8 735.1a9.6 9.6 0 1 0 19.2 0a9.6 9.6 0 1 0 -19.2 0M1518.5 739.3a9.6 9.6 0 1 0 19.2 0a9.6 9.6 0 1 0 -19.2 0M1522.2 741.9a9.6 9.6 0 1 0 19.2 0a9.6 9.6 0 1 0 -19.2 0M1526.0 739.1a9.6 9.6 0 1 0 19.2 0a9.6 9.6 0 1 0 -19.2 0M1529.7 738.0a9.6 9.6 0 1 0 19.2 0a9.6 9.6 0 1 0 -19.2 0M1533.4 737.9a9.6 9.6 0 1 0 19.2 0a9.6 9.6 0 1 0 -19.2 0M1537.2 741.3a9.6 9.6 0 1 0 19.2 0a9.6 9.6 0 1 0 -19.2 0M1540.9 735.7a9.6 9.6 0 1 0 19.2 0a9.6 9.6 0 1 0 -19.2 0M1544.6 746.7a9.6 9.6 0 1 0 19.2 0a9.6 9.6 0 1 0 -19.2 0M1548.4 738.7a9.6 9.6 0 1 0 19.2 0a9.6 9.6 0 1 0 -19.2 0M1552.1 739.3a9.6 9.6 0 1 0 19.2 0a9.6 9.6 0 1 0 -19.2 0M1555.8 736.9a9.6 9.6 0 1 0 19.2 0a9.6 9.6 0 1 0 -19.2 0M1559.6 738.5a9.6 9.6 0 1 0 19.2 0a9.6 9.6 0 1 0 -19.2 0M1563.3 737.4a9.6 9.6 0 1 0 19.2 0a9.6 9.6 0 1 0 -19.2 0M1567.0 734.1a9.6 9.6 0 1 0 19.2 0a9.6 9.6 0 1 0 -19.2 0M1570.8 737.9a9.6 9.6 0 1 0 19.2 0a9.6 9.6 0 1 0 -19.2 0M1574.5 735.8a9.6 9.6 0 1 0 19.2 0a9.6 9.6 0 1 0 -19.2 0M1578.2 738.3a9.6 9.6 0 1 0 19.2 0a9.6 9.6 0 1 0 -19.2 0M1582.0 740.3a9.6 9.6 0 1 0 19.2 0a9.6 9.6 0 1 0 -19.2 0M1585.7 736.5a9.6 9.6 0 1 0 19.2 0a9.6 9.6 0 1 0 -19.2 0M1589.4 738.2a9.6 9.6 0 1 0 19.2 0a9.6 9.6 0 1 0 -19.2 0M1593.2 740.2a9.6 9.6 0 1 0 19.2 0a9.6 9.6 0 1 0 -19.2 0M1596.9 743.0a9.6 9.6 0 1 0 19.2 0a9.6 9.6 0 1 0 -19.2 0M1600.6 739.5a9.6 9.6 0 1 0 19.2 0a9.6 9.6 0 1 0 -19.2 0M1604.4 737.1a9.6 9.6 0 1 0 19.2 0a9.6 9.6 0 1 0 -19.2 0M1608.1 741.8a9.6 9.6 0 1 0 19.2 0a9.6 9.6 0 1 0 -19.2 0M1611.8 744.5a9.6 9.6 0 1 0 19.2 0a9.6 9.6 0 1 0 -19.2 0M1615.6 744.1a9.6 9.6 0 1 0 19.2 0a9.6 9.6 0 1 0 -19.2 0M1619.3 739.5a9.6 9.6 0 1 0 19.2 0a9.6 9.6 0 1 0 -19.2 0" fill="#f00"/>
<rect x="324.1" y="89.0" width="1344.4" height="1085.0" fill="none" stroke="#000" stroke-width="4.4"/>
<path d="M417.5 1174.0V1163.0M510.8 1174.0V1153.0M604.2 1174.0V1163.0M697.5 1174.0V1153.0M790.9 1174.0V1163.0M884.3 1174.0V1153.0M977.6 1174.0V1163.0M1071.0 1174.0V1153.0M1164.3 1174.0V1163.0M1257.7 1174.0V1153.0M1351.1 1174.0V1163.0M1444.4 1174.0V1153.0M1537.8 1174.0V1163.0M1631.2 1174.0V1153.0M324.1 1065.5H335.1M324.1 957.0H345.1M324.1 848.5H335.1M324.1 740.0H345.1M324.1 631.5H335.1M324.1 523.0H345.1M324.1 414.5H335.1M324.1 306.0H345.1M324.1 197.5H335.1" stroke="#000" stroke-width="3.6" fill="none"/>
<text x="324.1" y="1261" font-size="83" text-anchor="middle">0</text>
<text x="510.8" y="1261" font-size="83" text-anchor="middle">50</text>
<text x="697.5" y="1261" font-size="83" text-anchor="middle">100</text>
<text x="884.3" y="1261" font-size="83" text-anchor="middle">150</text>
<text x="1071.0" y="1261" font-size="83" text-anchor="middle">200</text>
<text x="1257.7" y="1261" font-size="83" text-anchor="middle">250</text>
<text x="1444.4" y="1261" font-size="83" text-anchor="middle">300</text>
<text x="1631.2" y="1261" font-size="83" text-anchor="middle">350</text>
<text x="302" y="1198.6" font-size="83" text-anchor="end">-200</text>
<text x="302" y="981.6" font-size="83" text-anchor="end">-100</text>
<text x="302" y="764.6" font-size="83" text-anchor="end">0</text>
<text x="302" y="547.6" font-size="83" text-anchor="end">100</text>
<text x="302" y="330.6" font-size="83" text-anchor="end">200</text>
<text x="302" y="113.6" font-size="83" text-anchor="end">300</text>
<text x="659.5" y="1356.7" font-size="93">Temperature (K)</text>
<text transform="translate(118.9,1011.2) rotate(-90) scale(0.968,1)" font-size="95">Moment (emu/cm<tspan font-size="65" font-weight="normal" dy="-37.4">3</tspan><tspan dy="37.4">)</tspan></text>
<path d="M1247 214H1377" stroke="#000" stroke-width="4"/>
<path d="M1297.5 199.5L1326.5 228.5M1297.5 228.5L1326.5 199.5" stroke="#000" stroke-width="2"/>
<text x="1392.3" y="238.5" font-size="95">ZFC</text>
<path d="M1247 328H1377" stroke="#f00" stroke-width="4.3"/>
<circle cx="1312" cy="327.5" r="13" fill="#f00"/>
<text x="1398.4" y="352" font-size="95">FC</text>
<text y="951.5" font-size="94.5"><tspan x="1163.3">H</tspan><tspan x="1233.5">= </tspan><tspan x="1307.7">100 </tspan><tspan x="1468.6">Oe</tspan></text>
</g>
</svg>
</body></html>
